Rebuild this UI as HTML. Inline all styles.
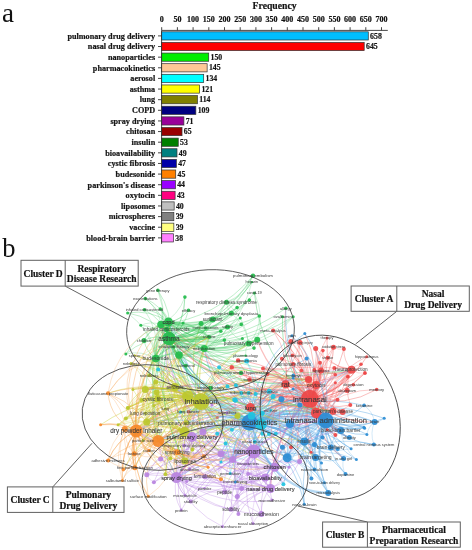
<!DOCTYPE html><html><head><meta charset="utf-8"><title>Figure</title><style>html,body{margin:0;padding:0;background:#fff;width:472px;height:550px;overflow:hidden}svg{display:block}.s{font-family:"Liberation Serif",serif;font-weight:bold;stroke:#151515;stroke-width:0.2px}.l{font-family:"Liberation Sans",sans-serif;fill:#3a3a3a}.k{stroke:#3a3a3a;stroke-width:0.1px}</style></head><body>
<svg width="472" height="550" viewBox="0 0 472 550">
<text x="2.1" y="21.8" font-family="Liberation Serif, serif" font-size="27" fill="#111">a</text>
<text x="2.2" y="256.5" font-family="Liberation Serif, serif" font-size="26.5" fill="#111">b</text>
<text class="s" x="274.6" y="9" font-size="9.7" text-anchor="middle" fill="#111">Frequency</text>
<text class="s" x="161.7" y="22.2" font-size="8" text-anchor="middle" fill="#111">0</text>
<text class="s" x="177.4" y="22.2" font-size="8" text-anchor="middle" fill="#111">50</text>
<text class="s" x="193.1" y="22.2" font-size="8" text-anchor="middle" fill="#111">100</text>
<text class="s" x="208.8" y="22.2" font-size="8" text-anchor="middle" fill="#111">150</text>
<text class="s" x="224.5" y="22.2" font-size="8" text-anchor="middle" fill="#111">200</text>
<text class="s" x="240.2" y="22.2" font-size="8" text-anchor="middle" fill="#111">250</text>
<text class="s" x="255.9" y="22.2" font-size="8" text-anchor="middle" fill="#111">300</text>
<text class="s" x="271.6" y="22.2" font-size="8" text-anchor="middle" fill="#111">350</text>
<text class="s" x="287.3" y="22.2" font-size="8" text-anchor="middle" fill="#111">400</text>
<text class="s" x="303.0" y="22.2" font-size="8" text-anchor="middle" fill="#111">450</text>
<text class="s" x="318.7" y="22.2" font-size="8" text-anchor="middle" fill="#111">500</text>
<text class="s" x="334.4" y="22.2" font-size="8" text-anchor="middle" fill="#111">550</text>
<text class="s" x="350.1" y="22.2" font-size="8" text-anchor="middle" fill="#111">600</text>
<text class="s" x="365.8" y="22.2" font-size="8" text-anchor="middle" fill="#111">650</text>
<text class="s" x="381.5" y="22.2" font-size="8" text-anchor="middle" fill="#111">700</text>
<rect x="161.6" y="31.80" width="206.68" height="8.2" fill="#00BEFF" stroke="#333" stroke-width="0.7"/>
<text class="s" x="155.2" y="38.70" font-size="8.2" text-anchor="end" fill="#151515">pulmonary drug delivery</text>
<text class="s" x="370.08" y="38.60" font-size="7.8" fill="#151515">658</text>
<rect x="161.6" y="42.43" width="202.59" height="8.2" fill="#FF0000" stroke="#333" stroke-width="0.7"/>
<text class="s" x="155.2" y="49.33" font-size="8.2" text-anchor="end" fill="#151515">nasal drug delivery</text>
<text class="s" x="365.99" y="49.23" font-size="7.8" fill="#151515">645</text>
<rect x="161.6" y="53.06" width="47.12" height="8.2" fill="#00EE00" stroke="#333" stroke-width="0.7"/>
<text class="s" x="155.2" y="59.96" font-size="8.2" text-anchor="end" fill="#151515">nanoparticles</text>
<text class="s" x="210.52" y="59.86" font-size="7.8" fill="#151515">150</text>
<rect x="161.6" y="63.69" width="45.54" height="8.2" fill="#FFC896" stroke="#333" stroke-width="0.7"/>
<text class="s" x="155.2" y="70.59" font-size="8.2" text-anchor="end" fill="#151515">pharmacokinetics</text>
<text class="s" x="208.94" y="70.49" font-size="7.8" fill="#151515">145</text>
<rect x="161.6" y="74.32" width="42.09" height="8.2" fill="#00FFFF" stroke="#333" stroke-width="0.7"/>
<text class="s" x="155.2" y="81.22" font-size="8.2" text-anchor="end" fill="#151515">aerosol</text>
<text class="s" x="205.49" y="81.12" font-size="7.8" fill="#151515">134</text>
<rect x="161.6" y="84.95" width="38.01" height="8.2" fill="#FFFF00" stroke="#333" stroke-width="0.7"/>
<text class="s" x="155.2" y="91.85" font-size="8.2" text-anchor="end" fill="#151515">asthma</text>
<text class="s" x="201.41" y="91.75" font-size="7.8" fill="#151515">121</text>
<rect x="161.6" y="95.58" width="35.81" height="8.2" fill="#808000" stroke="#333" stroke-width="0.7"/>
<text class="s" x="155.2" y="102.48" font-size="8.2" text-anchor="end" fill="#151515">lung</text>
<text class="s" x="199.21" y="102.38" font-size="7.8" fill="#151515">114</text>
<rect x="161.6" y="106.21" width="34.24" height="8.2" fill="#000080" stroke="#333" stroke-width="0.7"/>
<text class="s" x="155.2" y="113.11" font-size="8.2" text-anchor="end" fill="#151515">COPD</text>
<text class="s" x="197.64" y="113.01" font-size="7.8" fill="#151515">109</text>
<rect x="161.6" y="116.84" width="22.30" height="8.2" fill="#990099" stroke="#333" stroke-width="0.7"/>
<text class="s" x="155.2" y="123.74" font-size="8.2" text-anchor="end" fill="#151515">spray drying</text>
<text class="s" x="185.70" y="123.64" font-size="7.8" fill="#151515">71</text>
<rect x="161.6" y="127.47" width="20.42" height="8.2" fill="#990000" stroke="#333" stroke-width="0.7"/>
<text class="s" x="155.2" y="134.37" font-size="8.2" text-anchor="end" fill="#151515">chitosan</text>
<text class="s" x="183.82" y="134.27" font-size="7.8" fill="#151515">65</text>
<rect x="161.6" y="138.10" width="16.65" height="8.2" fill="#008000" stroke="#333" stroke-width="0.7"/>
<text class="s" x="155.2" y="145.00" font-size="8.2" text-anchor="end" fill="#151515">insulin</text>
<text class="s" x="180.05" y="144.90" font-size="7.8" fill="#151515">53</text>
<rect x="161.6" y="148.73" width="15.39" height="8.2" fill="#008080" stroke="#333" stroke-width="0.7"/>
<text class="s" x="155.2" y="155.63" font-size="8.2" text-anchor="end" fill="#151515">bioavailability</text>
<text class="s" x="178.79" y="155.53" font-size="7.8" fill="#151515">49</text>
<rect x="161.6" y="159.36" width="14.76" height="8.2" fill="#0000A8" stroke="#333" stroke-width="0.7"/>
<text class="s" x="155.2" y="166.26" font-size="8.2" text-anchor="end" fill="#151515">cystic fibrosis</text>
<text class="s" x="178.16" y="166.16" font-size="7.8" fill="#151515">47</text>
<rect x="161.6" y="169.99" width="14.13" height="8.2" fill="#FF8000" stroke="#333" stroke-width="0.7"/>
<text class="s" x="155.2" y="176.89" font-size="8.2" text-anchor="end" fill="#151515">budesonide</text>
<text class="s" x="177.53" y="176.79" font-size="7.8" fill="#151515">45</text>
<rect x="161.6" y="180.62" width="13.82" height="8.2" fill="#9900FF" stroke="#333" stroke-width="0.7"/>
<text class="s" x="155.2" y="187.52" font-size="8.2" text-anchor="end" fill="#151515">parkinson&#39;s disease</text>
<text class="s" x="177.22" y="187.42" font-size="7.8" fill="#151515">44</text>
<rect x="161.6" y="191.25" width="13.51" height="8.2" fill="#FF0080" stroke="#333" stroke-width="0.7"/>
<text class="s" x="155.2" y="198.15" font-size="8.2" text-anchor="end" fill="#151515">oxytocin</text>
<text class="s" x="176.91" y="198.05" font-size="7.8" fill="#151515">43</text>
<rect x="161.6" y="201.88" width="12.56" height="8.2" fill="#C0C0C0" stroke="#333" stroke-width="0.7"/>
<text class="s" x="155.2" y="208.78" font-size="8.2" text-anchor="end" fill="#151515">liposomes</text>
<text class="s" x="175.96" y="208.68" font-size="7.8" fill="#151515">40</text>
<rect x="161.6" y="212.51" width="12.25" height="8.2" fill="#808080" stroke="#333" stroke-width="0.7"/>
<text class="s" x="155.2" y="219.41" font-size="8.2" text-anchor="end" fill="#151515">microspheres</text>
<text class="s" x="175.65" y="219.31" font-size="7.8" fill="#151515">39</text>
<rect x="161.6" y="223.14" width="12.25" height="8.2" fill="#FFFF80" stroke="#333" stroke-width="0.7"/>
<text class="s" x="155.2" y="230.04" font-size="8.2" text-anchor="end" fill="#151515">vaccine</text>
<text class="s" x="175.65" y="229.94" font-size="7.8" fill="#151515">39</text>
<rect x="161.6" y="233.77" width="11.94" height="8.2" fill="#FF80FF" stroke="#333" stroke-width="0.7"/>
<text class="s" x="155.2" y="240.67" font-size="8.2" text-anchor="end" fill="#151515">blood-brain barrier</text>
<text class="s" x="175.34" y="240.57" font-size="7.8" fill="#151515">38</text>
<path d="M161.7 27.2V30.4M177.4 27.2V30.4M193.1 27.2V30.4M208.8 27.2V30.4M224.5 27.2V30.4M240.2 27.2V30.4M255.9 27.2V30.4M271.6 27.2V30.4M287.3 27.2V30.4M303.0 27.2V30.4M318.7 27.2V30.4M334.4 27.2V30.4M350.1 27.2V30.4M365.8 27.2V30.4M381.5 27.2V30.4M158 35.90H161.6M158 46.53H161.6M158 57.16H161.6M158 67.79H161.6M158 78.42H161.6M158 89.05H161.6M158 99.68H161.6M158 110.31H161.6M158 120.94H161.6M158 131.57H161.6M158 142.20H161.6M158 152.83H161.6M158 163.46H161.6M158 174.09H161.6M158 184.72H161.6M158 195.35H161.6M158 205.98H161.6M158 216.61H161.6M158 227.24H161.6M158 237.87H161.6M161.6 30.4H387.8M161.6 30.4V243.9" stroke="#333" stroke-width="0.9" fill="none"/>
<g fill="none" stroke-opacity="0.4">
<path stroke="#F26060" stroke-width="1.6" d="M309.8 398.8Q313.4 412.8 325.7 420.5M309.8 398.8Q254.9 378.5 201.1 401.6"/>
<path stroke="#4AA0E0" stroke-width="1.6" d="M309.8 398.8Q274.9 398.6 249.5 422.5"/>
<path stroke="#C4CA24" stroke-width="1.4" d="M169.0 338.5Q172.4 376.5 201.1 401.6M249.5 422.5Q229.5 402.4 201.1 401.6M201.1 401.6Q171.8 412.7 158.2 441.0M201.1 401.6Q217.5 437.1 253.8 451.5M325.7 420.5Q267.2 386.1 201.1 401.6M201.1 401.6Q162.8 403.3 136.3 430.9"/>
<path stroke="#F26060" stroke-width="1.4" d="M169.0 338.5Q227.3 396.8 309.8 398.8M309.8 398.8Q310.1 407.2 316.2 413.1M309.8 398.8Q280.3 401.8 261.0 424.4M309.8 398.8Q216.6 380.2 136.3 430.9M309.8 398.8Q227.4 411.5 176.5 477.5"/>
<path stroke="#4AA0E0" stroke-width="1.4" d="M325.7 420.5Q287.2 406.3 249.5 422.5M249.5 422.5Q245.8 437.9 253.8 451.5M249.5 422.5Q191.2 404.1 136.3 430.9M169.0 338.5Q192.4 396.6 249.5 422.5"/>
<path stroke="#B57CE0" stroke-width="1.4" d="M325.7 420.5Q283.6 421.6 253.8 451.5"/>
<path stroke="#3CC860" stroke-width="1.2" d="M168.5 322.0Q168.9 368.3 201.1 401.6M169.0 338.5Q166.8 371.3 187.8 396.5M169.0 338.5Q143.1 387.6 158.2 441.0"/>
<path stroke="#C4CA24" stroke-width="1.2" d="M179.0 355.0Q180.7 382.7 201.1 401.6M155.8 358.5Q169.8 389.1 201.1 401.6M204.2 348.6Q192.0 374.5 201.1 401.6M250.4 407.4Q226.9 394.6 201.1 401.6M201.1 401.6Q195.5 396.4 187.8 396.5M201.1 401.6Q186.7 413.5 184.5 432.0M201.1 401.6Q191.0 389.1 175.1 387.0M201.1 401.6Q175.6 384.4 145.3 389.6M201.1 401.6Q179.9 391.7 157.7 399.1M201.1 401.6Q169.8 400.9 146.7 421.9M201.1 401.6Q181.1 428.0 184.8 460.9M201.1 401.6Q173.6 434.6 176.5 477.5M249.5 422.5Q219.4 389.9 175.1 387.0M184.5 432.0Q215.2 455.6 253.8 451.5M201.1 401.6Q195.9 417.1 202.9 431.9M161.0 324.5Q165.6 371.1 201.1 401.6M308.5 379.5Q250.4 369.1 201.1 401.6M249.5 422.5Q215.1 414.2 184.5 432.0M201.1 401.6Q200.6 431.7 221.0 453.8M201.1 401.6Q224.8 449.1 274.8 467.2"/>
<path stroke="#F26060" stroke-width="1.2" d="M257.2 339.7Q271.7 379.8 309.8 398.8M309.8 398.8Q315.7 393.2 316.1 385.1M309.8 398.8Q313.0 388.9 308.5 379.5M309.8 398.8Q318.9 409.6 333.0 411.2M309.8 398.8Q321.0 386.9 321.0 370.6M309.8 398.8Q300.6 386.7 285.6 384.2M309.8 398.8Q336.5 392.6 351.5 369.7M285.6 384.2Q298.4 410.4 325.7 420.5M309.8 398.8Q278.4 391.2 250.4 407.4M309.8 398.8Q316.2 368.6 300.0 342.4M309.8 398.8Q311.8 366.3 290.9 341.4M309.8 398.8Q332.0 377.7 333.5 347.2M309.8 398.8Q322.8 374.8 315.7 348.5M309.8 398.8Q330.1 402.2 347.1 390.6M309.8 398.8Q323.6 412.0 342.7 412.0M309.8 398.8Q337.6 423.3 374.6 421.9M309.8 398.8Q319.0 420.8 340.8 430.5M309.8 398.8Q321.9 426.1 349.4 437.5M309.8 398.8Q303.0 422.6 314.5 444.5M309.8 398.8Q301.0 429.3 315.6 457.5M309.8 398.8Q314.8 435.4 343.6 458.5M309.8 398.8Q303.5 400.0 299.8 405.1M309.8 398.8Q294.8 407.4 289.9 424.0M309.8 398.8Q277.2 395.7 251.5 415.9M309.8 398.8Q283.1 396.5 262.1 413.2M309.8 398.8Q278.6 426.0 274.8 467.2M309.8 398.8Q292.2 428.1 299.6 461.5M309.8 398.8Q272.2 435.8 270.5 488.5M351.5 369.7Q328.4 389.9 325.7 420.5"/>
<path stroke="#4AA0E0" stroke-width="1.2" d="M250.4 407.4Q246.9 414.8 249.5 422.5M316.2 413.1Q319.5 418.7 325.7 420.5M316.2 413.1Q281.0 404.5 249.5 422.5M325.7 420.5Q307.1 415.1 289.9 424.0M325.7 420.5Q310.9 426.8 304.5 441.6M325.7 420.5Q313.2 437.0 315.6 457.5M325.7 420.5Q331.2 428.5 340.8 430.5M325.7 420.5Q299.0 431.4 287.2 457.7M340.8 430.5Q296.8 408.2 249.5 422.5M304.5 441.6Q280.8 421.1 249.5 422.5M315.6 457.5Q289.6 426.8 249.5 422.5M287.2 457.7Q275.4 432.6 249.5 422.5M287.2 457.7Q271.7 447.9 253.8 451.5M309.8 398.8Q286.7 423.7 287.2 457.7M289.9 424.0Q270.0 415.2 249.5 422.5M249.5 422.5Q254.9 425.8 261.0 424.4M249.5 422.5Q223.8 397.2 187.8 396.5M325.7 420.5Q292.6 409.5 261.0 424.4M249.5 422.5Q200.2 413.5 158.2 441.0M249.5 422.5Q202.0 435.4 176.5 477.5M249.5 422.5Q233.6 437.7 232.5 459.6M325.7 420.5Q284.1 436.9 265.3 477.5M168.5 322.0Q188.9 388.4 249.5 422.5M161.0 324.5Q185.7 391.2 249.5 422.5M179.0 355.0Q200.8 402.9 249.5 422.5M204.2 348.6Q212.1 394.6 249.5 422.5M325.7 420.5Q257.1 373.6 175.1 387.0M325.7 420.5Q237.8 397.2 158.2 441.0M325.7 420.5Q262.0 401.6 202.9 431.9M340.8 430.5Q276.7 388.1 201.1 401.6M249.5 422.5Q204.0 385.2 145.3 389.6M249.5 422.5Q198.2 401.6 146.7 421.9M249.5 422.5Q229.0 432.4 221.0 453.8M249.5 422.5Q253.2 449.9 274.8 467.2"/>
<path stroke="#40CCE6" stroke-width="1.2" d="M261.0 424.4Q235.6 401.0 201.1 401.6M309.8 398.8Q291.0 386.9 269.2 391.2M309.8 398.8Q291.9 390.3 273.0 396.5"/>
<path stroke="#F59638" stroke-width="1.2" d="M187.8 396.5Q155.2 403.4 136.3 430.9M184.5 432.0Q160.6 421.8 136.3 430.9M136.3 430.9Q145.2 440.3 158.2 441.0M136.3 430.9Q162.9 445.1 192.0 437.0M169.0 338.5Q134.2 378.2 136.3 430.9M136.3 430.9Q147.1 462.2 176.5 477.5M261.0 424.4Q206.3 412.1 158.2 441.0"/>
<path stroke="#B57CE0" stroke-width="1.2" d="M136.3 430.9Q190.9 464.7 253.8 451.5M158.2 441.0Q160.0 462.9 176.5 477.5M253.8 451.5Q254.7 473.3 270.5 488.5M253.8 451.5Q261.2 463.6 274.8 467.2M253.8 451.5Q225.8 431.9 192.0 437.0M261.0 424.4Q252.0 436.5 253.8 451.5M249.5 422.5Q217.8 418.2 192.0 437.0M201.1 401.6Q189.5 417.5 192.0 437.0M253.8 451.5Q210.0 449.0 176.5 477.5"/>
<path stroke="#3CC860" stroke-width="1.0" d="M169.0 338.5Q172.1 330.1 168.5 322.0M169.0 338.5Q167.8 329.9 161.0 324.5M169.0 338.5Q170.7 348.8 179.0 355.0M169.0 338.5Q169.5 333.5 166.4 329.5M169.0 338.5Q184.6 350.6 204.2 348.6M169.0 338.5Q158.4 345.9 155.8 358.5M169.0 338.5Q156.1 334.4 144.0 340.4M169.0 338.5Q171.9 355.5 185.8 365.8M185.8 365.8Q186.3 386.8 201.1 401.6M169.0 338.5Q194.7 337.7 212.7 319.5M169.0 338.5Q200.6 344.4 227.5 327.0M169.0 338.5Q188.1 337.4 201.1 323.5M169.0 338.5Q189.4 345.8 209.2 337.0M169.0 338.5Q212.9 356.7 257.2 339.7M169.0 338.5Q207.8 356.9 248.7 343.5M169.0 338.5Q205.0 331.9 226.5 302.3M169.0 338.5Q205.2 338.4 231.4 313.3M169.0 338.5Q223.5 323.9 253.0 275.8M254.4 293.1Q261.0 357.0 309.8 398.8M282.6 316.7Q279.8 363.2 309.8 398.8M169.0 338.5Q179.9 371.6 210.7 388.0M169.0 338.5Q198.1 370.1 241.0 373.0M169.0 338.5Q203.3 365.3 246.6 361.0M169.0 338.5Q157.4 351.9 158.2 369.6M169.0 338.5Q146.9 359.3 145.3 389.6M169.0 338.5Q151.7 352.9 149.1 375.3M169.0 338.5Q218.2 384.7 285.6 384.2M169.0 338.5Q254.0 390.6 351.5 369.7M169.0 338.5Q194.8 393.7 251.5 415.9M169.0 338.5Q152.4 402.9 184.8 460.9M168.5 322.0Q192.6 415.9 274.8 467.2M161.0 324.5Q138.2 404.1 176.5 477.5M155.8 358.5Q158.2 405.0 192.0 437.0"/>
<path stroke="#C4CA24" stroke-width="1.0" d="M201.1 323.5Q185.5 362.6 201.1 401.6M257.2 339.7Q216.8 359.4 201.1 401.6M248.7 343.5Q213.3 363.0 201.1 401.6M210.7 388.0Q203.2 392.9 201.1 401.6M241.0 373.0Q215.3 379.3 201.1 401.6M249.7 379.5Q221.0 380.8 201.1 401.6M238.1 360.4Q211.4 373.6 201.1 401.6M231.8 367.2Q209.6 378.3 201.1 401.6M235.3 481.9Q234.3 434.9 201.1 401.6M241.2 392.9Q219.4 389.2 201.1 401.6M248.6 392.9Q223.1 387.8 201.1 401.6M255.6 394.0Q226.8 386.9 201.1 401.6M227.4 386.5Q211.2 388.8 201.1 401.6M235.9 385.3Q215.2 386.5 201.1 401.6M234.8 399.7Q217.6 393.9 201.1 401.6M246.6 361.0Q215.7 372.2 201.1 401.6M219.1 367.2Q203.2 380.8 201.1 401.6M225.6 443.6Q221.8 417.7 201.1 401.6M217.2 433.8Q215.6 414.5 201.1 401.6M262.1 413.2Q233.9 395.2 201.1 401.6M235.6 400.5Q218.1 394.2 201.1 401.6M158.2 369.6Q173.2 394.2 201.1 401.6M201.1 401.6Q180.7 388.1 156.7 392.4M201.1 401.6Q216.4 416.0 237.5 415.9M201.1 401.6Q189.5 409.2 186.4 422.7M187.8 396.5Q179.1 413.6 184.5 432.0M187.8 396.5Q183.3 389.2 175.1 387.0M187.8 396.5Q167.9 384.6 145.3 389.6M187.8 396.5Q173.4 428.1 184.8 460.9M187.8 396.5Q162.2 401.0 146.7 421.9M187.8 396.5Q208.8 416.1 237.5 415.9M187.8 396.5Q173.1 388.2 156.7 392.4M169.0 338.5Q162.4 364.0 175.1 387.0M175.1 387.0Q170.8 411.4 184.5 432.0M187.8 396.5Q172.2 391.8 157.7 399.1M201.1 401.6Q182.4 382.7 155.8 381.9M201.1 401.6Q180.4 378.1 149.1 375.3M201.1 401.6Q173.7 368.5 131.0 363.4M201.1 401.6Q170.9 396.1 145.3 413.0M201.1 401.6Q176.7 394.3 153.9 405.8M201.1 401.6Q163.4 390.0 128.1 407.7M201.1 401.6Q171.6 388.9 141.5 400.0M201.1 401.6Q169.4 382.0 132.9 389.6M184.5 432.0Q187.2 436.0 192.0 437.0M237.5 415.9Q238.5 437.0 253.8 451.5M146.7 421.9Q139.7 424.3 136.3 430.9M201.1 401.6Q160.1 395.0 125.8 418.5M201.1 401.6Q163.1 390.1 127.7 408.0M201.1 401.6Q155.0 396.6 118.1 424.8M201.1 401.6Q164.2 409.4 142.9 440.4M184.8 460.9Q175.5 445.6 158.2 441.0M201.1 401.6Q174.4 424.0 170.5 458.6M201.1 401.6Q187.2 423.9 192.4 449.6M201.1 401.6Q168.8 430.8 165.5 474.2M201.1 401.6Q177.1 365.2 134.6 355.3M201.1 401.6Q181.8 397.9 165.3 408.6M201.1 401.6Q192.8 404.2 188.5 411.8M201.1 401.6Q188.7 402.7 180.5 412.0M201.1 401.6Q157.5 400.0 124.8 429.0M201.1 401.6Q146.2 393.1 100.6 424.8M201.1 401.6Q157.3 414.3 134.3 453.8M201.1 401.6Q154.7 421.4 134.8 467.7M201.1 401.6Q148.7 420.1 123.4 469.6M201.1 401.6Q179.0 422.2 177.2 452.3M201.1 401.6Q195.5 444.4 221.0 479.2M201.1 401.6Q183.8 420.2 184.0 445.6M201.1 401.6Q169.3 422.2 160.6 459.1M201.1 401.6Q211.8 412.5 227.0 413.1M201.1 401.6Q206.0 412.7 217.3 417.4M179.0 355.0Q175.1 377.5 187.8 396.5M285.6 384.2Q225.5 387.9 184.5 432.0M316.1 385.1Q240.9 382.2 184.5 432.0"/>
<path stroke="#F26060" stroke-width="1.0" d="M285.8 308.2Q279.7 358.3 309.8 398.8M241.0 373.0Q270.2 399.7 309.8 398.8M285.6 384.2Q295.1 404.8 316.2 413.1M308.5 379.5Q305.6 397.8 316.2 413.1M316.1 385.1Q310.5 399.1 316.2 413.1M250.4 407.4Q282.2 423.4 316.2 413.1M309.8 398.8Q283.6 377.1 249.7 379.5M309.8 398.8Q330.6 371.8 327.0 338.0M309.8 398.8Q336.8 380.7 343.9 349.0M309.8 398.8Q326.0 377.3 322.9 350.6M309.8 398.8Q309.8 373.6 292.4 355.4M309.8 398.8Q327.0 381.8 327.7 357.7M309.8 398.8Q346.7 389.1 366.7 356.7M309.8 398.8Q308.5 378.1 293.3 364.0M309.8 398.8Q303.9 373.2 281.9 358.8M309.8 398.8Q322.1 382.8 320.0 362.8M309.8 398.8Q342.3 391.8 361.0 364.3M309.8 398.8Q317.8 385.3 314.3 370.0M351.5 369.7Q325.2 384.3 316.2 413.1M309.8 398.8Q328.2 388.4 334.3 368.1M309.8 398.8Q342.5 396.9 364.9 372.9M309.8 398.8Q311.2 383.0 301.4 370.6M309.8 398.8Q327.4 391.9 335.3 374.8M309.8 398.8Q333.2 395.3 347.7 376.7M309.8 398.8Q334.4 400.5 353.4 384.8M309.8 398.8Q345.1 407.5 376.7 389.5M316.2 413.1Q325.0 415.5 333.0 411.2M309.8 398.8Q323.5 404.8 337.5 399.7M309.8 398.8Q328.8 410.0 350.3 405.0M309.8 398.8Q325.8 395.9 335.4 382.7M309.8 398.8Q320.8 387.1 320.6 371.0M309.8 398.8Q333.4 395.3 348.1 376.4M309.8 398.8Q342.6 397.1 365.1 373.2M309.8 398.8Q305.1 357.4 273.1 330.6M309.8 398.8Q281.6 365.3 238.1 360.4M309.8 398.8Q292.5 374.3 263.0 368.5M309.8 398.8Q293.6 377.9 267.5 374.0M309.8 398.8Q277.1 367.4 231.8 367.2M309.8 398.8Q312.4 417.8 327.3 429.8M309.8 398.8Q315.3 422.1 335.4 435.1M309.8 398.8Q290.7 419.2 291.0 447.2M309.8 398.8Q299.7 425.7 311.0 452.2M309.8 398.8Q313.5 363.7 291.9 335.7M309.8 398.8Q320.4 365.1 304.8 333.4M309.8 398.8Q280.4 383.6 248.6 392.9M309.8 398.8Q283.2 396.6 262.4 413.4M309.8 398.8Q273.7 409.3 254.8 441.8M309.8 398.8Q285.8 409.5 275.8 433.8M309.8 398.8Q245.4 406.4 203.9 456.3M309.8 398.8Q259.8 389.6 217.3 417.4M169.0 338.5Q230.6 386.9 308.5 379.5M169.0 338.5Q236.5 407.7 333.0 411.2M308.5 379.5Q266.8 404.6 253.8 451.5M316.1 385.1Q227.8 403.4 176.5 477.5M250.4 407.4Q197.6 405.8 158.2 441.0M316.2 413.1Q325.0 426.7 340.8 430.5M316.2 413.1Q250.9 371.8 175.1 387.0M316.2 413.1Q284.7 431.9 274.8 467.2M333.0 411.2Q239.6 391.1 158.2 441.0"/>
<path stroke="#4AA0E0" stroke-width="1.0" d="M285.8 308.2Q283.3 372.3 325.7 420.5M353.4 384.8Q332.4 397.1 325.7 420.5M291.0 447.2Q313.7 440.8 325.7 420.5M311.0 452.2Q324.7 439.3 325.7 420.5M325.7 420.5Q322.9 435.0 330.8 447.5M325.7 420.5Q349.9 431.0 374.6 421.9M374.6 421.9Q311.9 397.2 249.5 422.5M325.7 420.5Q355.4 431.1 384.2 418.3M384.2 418.3Q316.0 393.5 249.5 422.5M325.7 420.5Q343.5 431.5 364.0 427.2M364.0 427.2Q307.7 402.0 249.5 422.5M325.7 420.5Q347.9 420.6 364.1 405.4M364.1 405.4Q303.4 391.0 249.5 422.5M325.7 420.5Q334.1 433.7 349.4 437.5M349.4 437.5Q302.4 410.0 249.5 422.5M325.7 420.5Q343.6 432.1 364.6 428.2M364.6 428.2Q308.2 402.3 249.5 422.5M325.7 420.5Q343.5 435.7 366.9 434.4M366.9 434.4Q310.6 405.0 249.5 422.5M325.7 420.5Q345.0 442.1 373.9 444.5M325.7 420.5Q320.8 428.4 322.6 437.5M322.6 437.5Q289.1 415.4 249.5 422.5M330.8 447.5Q295.1 418.7 249.5 422.5M325.7 420.5Q315.3 430.3 314.5 444.5M325.7 420.5Q326.0 437.2 337.8 449.1M337.8 449.1Q299.0 418.1 249.5 422.5M325.7 420.5Q332.8 439.7 351.1 448.7M351.1 448.7Q305.5 415.3 249.5 422.5M325.7 420.5Q327.0 443.1 343.6 458.5M343.6 458.5Q303.8 421.7 249.5 422.5M325.7 420.5Q333.2 446.2 356.4 459.6M321.5 463.1Q293.6 428.4 249.5 422.5M325.7 420.5Q315.1 441.0 321.5 463.1M325.7 420.5Q310.3 442.8 314.5 469.6M314.5 469.6Q291.4 433.1 249.5 422.5M345.5 474.1Q307.8 429.1 249.5 422.5M325.7 420.5Q324.9 451.3 345.5 474.1M325.7 420.5Q312.6 451.4 324.4 482.8M325.7 420.5Q312.5 457.2 328.2 492.9M328.2 492.9Q302.9 442.0 249.5 422.5M325.7 420.5Q298.2 458.1 304.3 504.3M304.3 504.3Q293.3 452.4 249.5 422.5M325.7 420.5Q306.9 446.7 311.4 478.6M282.4 447.2Q270.9 428.3 249.5 422.5M325.7 420.5Q298.7 425.2 282.4 447.2M299.8 405.1Q271.2 403.7 249.5 422.5M325.7 420.5Q315.8 407.6 299.8 405.1M281.4 399.2Q260.8 404.5 249.5 422.5M325.7 420.5Q307.8 401.0 281.4 399.2M325.7 420.5Q318.5 391.5 293.3 375.4M293.3 375.4Q262.0 390.2 249.5 422.5M291.9 335.7Q253.3 370.6 249.5 422.5M325.7 420.5Q325.8 371.3 291.9 335.7M325.7 420.5Q332.7 372.8 304.8 333.4M304.8 333.4Q259.3 366.9 249.5 422.5M306.7 358.6Q265.3 379.1 249.5 422.5M325.7 420.5Q328.6 385.8 306.7 358.6M293.1 378.0Q262.4 391.5 249.5 422.5M325.7 420.5Q317.9 392.7 293.1 378.0M293.1 389.1Q264.6 397.1 249.5 422.5M325.7 420.5Q315.7 398.3 293.1 389.1M309.8 398.8Q303.4 390.6 293.1 389.1M325.7 420.5Q268.2 433.1 235.3 481.9M249.5 422.5Q230.5 449.4 235.3 481.9M249.5 422.5Q245.4 388.8 219.1 367.2M249.5 422.5Q239.2 422.6 231.9 429.8M249.5 422.5Q248.3 433.2 254.8 441.8M249.5 422.5Q260.4 433.4 275.8 433.8M249.5 422.5Q253.7 430.7 262.4 433.8M325.7 420.5Q291.8 443.9 283.4 484.3M249.5 422.5Q227.3 436.6 221.0 462.0M249.5 422.5Q217.9 410.0 186.4 422.7M249.5 422.5Q244.8 416.8 237.5 415.9M249.5 422.5Q221.1 404.9 188.5 411.8M249.5 422.5Q260.4 452.8 289.1 467.2M325.7 420.5Q304.4 435.8 299.6 461.5M304.5 441.6Q231.5 412.0 158.2 441.0M315.6 457.5Q294.9 430.0 261.0 424.4M315.6 457.5Q242.1 439.7 176.5 477.5M289.9 424.0Q266.4 430.5 253.8 451.5"/>
<path stroke="#40CCE6" stroke-width="1.0" d="M251.5 415.9Q254.6 422.0 261.0 424.4M273.0 396.5Q252.4 420.2 253.8 451.5M249.5 422.5Q250.1 401.2 235.9 385.3M249.5 422.5Q246.7 408.2 234.8 399.7M249.5 422.5Q262.6 420.7 270.8 410.3M225.6 443.6Q238.1 453.2 253.8 451.5M269.0 434.0Q257.9 439.7 253.8 451.5M249.5 422.5Q231.1 421.7 217.2 433.8M309.8 398.8Q272.4 384.8 235.6 400.5M230.2 473.5Q230.0 431.7 201.1 401.6M179.0 355.0Q206.1 406.1 261.0 424.4M155.8 358.5Q195.2 412.5 261.0 424.4M285.6 384.2Q265.3 399.4 261.0 424.4M316.2 413.1Q286.3 407.7 261.0 424.4M251.5 415.9Q217.5 414.6 192.0 437.0M261.0 424.4Q230.0 395.8 187.8 396.5"/>
<path stroke="#B57CE0" stroke-width="1.0" d="M251.5 415.9Q245.5 434.2 253.8 451.5M269.2 391.2Q249.4 418.3 253.8 451.5M234.8 399.7Q233.9 429.4 253.8 451.5M231.9 429.8Q238.5 445.0 253.8 451.5M283.4 484.3Q275.2 462.0 253.8 451.5M158.2 441.0Q175.9 445.8 192.0 437.0M253.8 451.5Q254.4 466.8 265.3 477.5M253.8 451.5Q236.9 446.1 221.0 453.8M253.8 451.5Q241.5 451.3 232.5 459.6M253.8 451.5Q245.1 484.2 261.4 513.9M253.8 451.5Q232.3 431.5 202.9 431.9M192.0 437.0Q176.2 454.1 176.5 477.5M192.0 437.0Q220.9 478.4 270.5 488.5M192.0 437.0Q227.4 468.7 274.8 467.2M202.9 431.9Q180.6 449.4 176.5 477.5M253.8 451.5Q220.1 434.6 184.0 445.6M176.5 477.5Q203.5 474.5 221.0 453.8M176.5 477.5Q220.9 495.3 265.3 477.5M253.8 451.5Q205.7 436.7 160.6 459.1M253.8 451.5Q195.7 441.7 146.8 474.7M253.8 451.5Q197.7 446.9 153.9 482.3M253.8 451.5Q218.2 447.5 189.6 469.1M253.8 451.5Q224.3 454.3 204.8 476.7M176.5 477.5Q208.1 479.8 232.5 459.6M274.8 467.2Q268.4 477.0 270.5 488.5M176.5 477.5Q227.7 492.0 274.8 467.2M192.0 437.0Q220.6 471.9 265.3 477.5M253.8 451.5Q246.5 461.6 248.1 473.9M253.8 451.5Q274.7 465.7 299.6 461.5M253.8 451.5Q231.1 466.0 224.6 492.1M253.8 451.5Q212.2 463.9 190.7 501.6M253.8 451.5Q230.9 475.8 231.0 509.2M253.8 451.5Q240.3 467.6 241.6 488.5M253.8 451.5Q236.6 470.7 237.3 496.5M249.5 422.5Q228.6 457.1 237.3 496.5M253.8 451.5Q233.6 479.6 238.4 513.9M201.1 401.6Q205.9 405.5 212.0 405.0M168.5 322.0Q157.2 384.2 192.0 437.0M155.8 358.5Q186.2 424.6 253.8 451.5M351.5 369.7Q286.3 391.1 253.8 451.5M333.0 411.2Q285.3 415.5 253.8 451.5"/>
<path stroke="#F59638" stroke-width="1.0" d="M145.3 389.6Q132.5 408.4 136.3 430.9M156.7 392.4Q147.7 417.0 158.2 441.0M136.3 430.9Q130.9 427.6 124.8 429.0M136.3 430.9Q152.5 449.8 177.2 452.3M136.3 430.9Q128.2 449.0 134.8 467.7M136.3 430.9Q130.7 442.0 134.3 453.8M124.8 429.0Q139.1 441.7 158.2 441.0M184.5 432.0Q169.5 431.2 158.2 441.0M158.2 441.0Q165.4 450.4 177.2 452.3M201.1 401.6Q156.2 378.8 108.0 393.2M177.2 452.3Q215.7 467.2 253.8 451.5M201.1 401.6Q191.5 435.8 208.1 467.2M136.3 430.9Q142.8 449.9 160.6 459.1M136.3 430.9Q132.8 454.9 146.8 474.7M179.0 355.0Q142.5 384.4 136.3 430.9M179.0 355.0Q151.4 393.8 158.2 441.0M308.5 379.5Q212.1 370.8 136.3 430.9M316.1 385.1Q226.0 381.5 158.2 441.0M287.2 457.7Q226.0 423.6 158.2 441.0M289.9 424.0Q211.7 396.7 136.3 430.9M184.8 460.9Q166.6 436.2 136.3 430.9M158.2 441.0Q187.0 460.0 221.0 453.8M158.2 441.0Q191.6 465.2 232.5 459.6M158.2 441.0Q211.3 477.4 274.8 467.2"/>
<path stroke="#3CC860" stroke-width="0.8" d="M169.0 338.5Q170.6 322.0 160.3 309.0M168.5 322.0Q164.2 321.8 161.0 324.5M168.5 322.0Q154.8 337.7 155.8 358.5M168.5 322.0Q167.2 340.6 179.0 355.0M168.5 322.0Q152.6 326.3 144.0 340.4M168.5 322.0Q204.3 348.8 248.7 343.5M161.0 324.5Q151.6 340.5 155.8 358.5M161.0 324.5Q162.7 328.1 166.4 329.5M161.0 324.5Q163.9 343.4 179.0 355.0M161.0 324.5Q149.3 329.1 144.0 340.4M168.5 322.0Q165.9 325.3 166.4 329.5M166.4 329.5Q167.6 344.8 179.0 355.0M166.4 329.5Q155.3 341.9 155.8 358.5M144.0 340.4Q146.3 351.8 155.8 358.5M169.0 338.5Q169.8 343.8 174.0 347.0M168.5 322.0Q166.2 335.6 174.0 347.0M179.0 355.0Q166.7 352.1 155.8 358.5M155.8 358.5Q182.0 363.2 204.2 348.6M168.5 322.0Q168.4 347.4 185.8 365.8M179.0 355.0Q192.9 356.8 204.2 348.6M161.0 324.5Q177.8 345.2 204.2 348.6M168.5 322.0Q181.0 342.4 204.2 348.6M204.2 348.6Q227.5 354.9 248.7 343.5M169.0 338.5Q189.4 340.6 205.6 328.0M161.0 324.5Q187.8 332.3 212.7 319.5M179.0 355.0Q202.9 344.0 212.7 319.5M155.8 358.5Q192.1 350.4 212.7 319.5M168.5 322.0Q191.1 329.6 212.7 319.5M168.5 322.0Q197.0 336.3 227.5 327.0M204.2 348.6Q220.2 342.5 227.5 327.0M179.0 355.0Q196.4 343.7 201.1 323.5M168.5 322.0Q184.5 329.3 201.1 323.5M168.5 322.0Q185.8 337.6 209.2 337.0M168.5 322.0Q192.8 337.1 220.8 331.2M169.0 338.5Q196.4 345.2 220.8 331.2M168.5 322.0Q205.2 334.4 240.3 318.0M169.0 338.5Q208.8 342.5 240.3 318.0M169.0 338.5Q208.0 345.9 241.3 324.4M168.5 322.0Q204.4 337.8 241.3 324.4M168.5 322.0Q192.8 342.2 224.4 340.1M169.0 338.5Q196.4 350.4 224.4 340.1M169.0 338.5Q205.7 353.2 242.4 338.6M204.2 348.6Q232.5 354.8 257.2 339.7M179.0 355.0Q221.2 363.0 257.2 339.7M257.2 339.7Q252.2 339.9 248.7 343.5M169.0 338.5Q209.6 360.3 254.0 348.1M169.0 338.5Q203.9 362.4 245.6 355.6M155.8 358.5Q202.4 344.5 226.5 302.3M169.0 338.5Q216.9 335.4 249.4 300.1M168.5 322.0Q213.3 327.2 249.4 300.1M168.5 322.0Q205.7 328.5 237.1 307.6M169.0 338.5Q209.2 336.7 237.1 307.6M168.5 322.0Q201.7 330.2 231.4 313.3M169.0 338.5Q218.7 345.3 259.3 316.0M168.5 322.0Q215.1 337.2 259.3 316.0M161.0 324.5Q216.7 318.5 253.0 275.8M169.0 338.5Q221.7 326.9 251.9 282.1M169.0 338.5Q220.8 332.9 254.4 293.1M169.0 338.5Q233.5 346.7 285.8 308.2M169.0 338.5Q230.2 350.3 282.6 316.7M169.0 338.5Q235.5 352.4 293.2 316.7M169.0 338.5Q173.1 312.2 157.9 290.3M169.0 338.5Q165.1 313.8 145.3 298.6M168.5 322.0Q161.6 305.7 145.3 298.6M169.0 338.5Q162.5 319.2 144.4 309.7M168.5 322.0Q158.9 311.0 144.4 309.7M168.5 322.0Q167.0 313.9 160.3 309.0M169.0 338.5Q185.2 321.0 184.9 297.1M169.0 338.5Q184.4 328.3 188.5 310.3M168.5 322.0Q180.8 320.1 188.5 310.3M169.0 338.5Q157.5 326.3 140.8 325.3M169.0 338.5Q179.2 333.6 183.1 323.0M168.5 322.0Q175.6 325.4 183.1 323.0M169.0 338.5Q153.4 317.4 127.6 312.9M168.5 322.0Q149.9 309.3 127.6 312.9M169.0 338.5Q144.3 337.6 125.8 354.0M168.5 322.0Q140.8 329.5 125.8 354.0M179.0 355.0Q188.2 377.8 210.7 388.0M168.5 322.0Q176.4 363.4 210.7 388.0M179.0 355.0Q206.4 376.4 241.0 373.0M168.5 322.0Q227.0 378.8 308.5 379.5M168.5 322.0Q148.9 394.7 184.8 460.9M161.0 324.5Q247.2 385.2 351.5 369.7M161.0 324.5Q229.7 402.2 333.0 411.2M161.0 324.5Q144.4 361.1 157.7 399.1M179.0 355.0Q238.8 393.1 308.5 379.5M155.8 358.5Q233.9 420.3 333.0 411.2M155.8 358.5Q173.9 424.4 232.5 459.6M204.2 348.6Q256.1 405.7 333.0 411.2M204.2 348.6Q186.9 390.0 202.9 431.9"/>
<path stroke="#F26060" stroke-width="0.8" d="M285.6 384.2Q263.4 388.8 250.4 407.4M285.6 384.2Q298.0 386.4 308.5 379.5M308.5 379.5Q319.1 402.6 342.7 412.0M308.5 379.5Q311.2 383.8 316.1 385.1M316.1 385.1Q278.8 383.1 250.4 407.4M249.7 379.5Q276.2 409.6 316.2 413.1M300.0 342.4Q294.0 381.0 316.2 413.1M250.4 407.4Q288.2 384.8 300.0 342.4M290.9 341.4Q289.2 382.3 316.2 413.1M327.0 338.0Q306.6 373.4 316.2 413.1M333.5 347.2Q311.7 376.7 316.2 413.1M308.5 379.5Q327.5 368.4 333.5 347.2M308.5 379.5Q318.3 365.4 315.7 348.5M315.7 348.5Q329.4 366.3 351.5 369.7M343.9 349.0Q343.6 360.9 351.5 369.7M322.9 350.6Q307.0 380.5 316.2 413.1M327.7 357.7Q337.2 368.5 351.5 369.7M366.7 356.7Q330.2 374.8 316.2 413.1M293.3 364.0Q294.9 393.1 316.2 413.1M316.1 385.1Q304.3 365.1 281.9 358.8M285.6 384.2Q288.8 370.8 281.9 358.8M320.0 362.8Q308.0 387.2 316.2 413.1M316.1 385.1Q322.5 374.7 320.0 362.8M321.0 370.6Q336.4 376.2 351.5 369.7M308.5 379.5Q316.5 377.6 321.0 370.6M321.0 370.6Q310.1 390.9 316.2 413.1M316.1 385.1Q318.2 377.2 314.3 370.0M314.3 370.0Q333.0 377.3 351.5 369.7M285.6 384.2Q321.4 390.1 351.5 369.7M351.5 369.7Q343.2 365.5 334.3 368.1M335.3 374.8Q318.1 390.1 316.2 413.1M347.7 376.7Q324.7 388.6 316.2 413.1M351.5 369.7Q345.1 379.3 347.1 390.6M316.1 385.1Q330.5 394.1 347.1 390.6M376.7 389.5Q341.7 389.2 316.2 413.1M351.5 369.7Q333.9 386.8 333.0 411.2M316.1 385.1Q319.3 401.5 333.0 411.2M316.2 413.1Q329.7 417.9 342.7 412.0M333.0 411.2Q337.7 413.5 342.7 412.0M316.1 385.1Q324.0 403.9 342.7 412.0M316.2 413.1Q329.5 410.7 337.5 399.7M285.6 384.2Q308.4 402.3 337.5 399.7M316.2 413.1Q334.9 415.9 350.3 405.0M351.5 369.7Q343.8 387.1 350.3 405.0M316.2 413.1Q331.9 401.7 335.4 382.7M316.2 413.1Q339.5 401.1 348.1 376.4M316.2 413.1Q311.1 363.2 273.1 330.6M285.6 384.2Q290.1 354.9 273.1 330.6M250.4 407.4Q253.7 381.4 238.1 360.4M316.1 385.1Q292.9 366.2 263.0 368.5M285.6 384.2Q277.4 371.8 263.0 368.5M285.6 384.2Q278.6 375.5 267.5 374.0M250.4 407.4Q265.6 394.1 267.5 374.0M250.4 407.4Q249.1 383.6 231.8 367.2M316.2 413.1Q318.4 423.7 327.3 429.8M316.2 413.1Q321.4 427.9 335.4 435.1M250.4 407.4Q262.7 435.4 291.0 447.2M168.5 322.0Q214.6 376.5 285.6 384.2M161.0 324.5Q223.8 381.5 308.5 379.5M155.8 358.5Q193.3 401.9 250.4 407.4M204.2 348.6Q215.5 387.2 250.4 407.4M285.6 384.2Q300.7 390.8 316.1 385.1M285.6 384.2Q285.9 426.9 315.6 457.5M285.6 384.2Q271.7 421.3 287.2 457.7M285.6 384.2Q262.2 393.2 251.5 415.9M285.6 384.2Q234.7 391.5 202.9 431.9M285.6 384.2Q244.0 411.3 232.5 459.6M285.6 384.2Q263.6 423.5 274.8 467.2M308.5 379.5Q332.0 383.2 351.5 369.7M316.1 385.1Q319.4 412.7 340.8 430.5M316.1 385.1Q295.2 399.3 289.9 424.0M316.1 385.1Q277.6 387.6 251.5 415.9M250.4 407.4Q201.4 377.5 145.3 389.6M250.4 407.4Q195.7 393.9 146.7 421.9M351.5 369.7Q238.7 354.8 146.7 421.9M351.5 369.7Q274.0 390.8 232.5 459.6"/>
<path stroke="#4AA0E0" stroke-width="0.8" d="M374.6 421.9Q331.8 406.0 289.9 424.0M340.8 430.5Q320.4 428.8 304.5 441.6M340.8 430.5Q316.7 417.1 289.9 424.0M340.8 430.5Q343.7 435.7 349.4 437.5M364.6 428.2Q320.0 427.5 287.2 457.7M373.9 444.5Q327.9 433.8 287.2 457.7M304.5 441.6Q292.6 446.2 287.2 457.7M304.5 441.6Q300.7 429.9 289.9 424.0M304.5 441.6Q306.9 451.8 315.6 457.5M322.6 437.5Q300.9 440.5 287.2 457.7M304.5 441.6Q316.5 449.8 330.8 447.5M340.8 430.5Q332.4 437.0 330.8 447.5M314.5 444.5Q306.3 429.3 289.9 424.0M304.5 441.6Q308.9 445.1 314.5 444.5M304.5 441.6Q319.6 452.0 337.8 449.1M315.6 457.5Q309.4 435.6 289.9 424.0M315.6 457.5Q329.4 463.6 343.6 458.5M356.4 459.6Q322.2 444.8 287.2 457.7M304.5 441.6Q303.9 457.6 314.5 469.6M324.4 482.8Q310.8 462.8 287.2 457.7M328.2 492.9Q314.7 467.1 287.2 457.7M315.6 457.5Q314.8 477.7 328.2 492.9M304.3 504.3Q305.1 477.6 287.2 457.7M304.5 441.6Q300.6 461.5 311.4 478.6M311.4 478.6Q303.5 463.3 287.2 457.7M287.2 457.7Q295.3 441.4 289.9 424.0M287.2 457.7Q286.9 451.5 282.4 447.2M304.5 441.6Q292.3 440.0 282.4 447.2M304.5 441.6Q309.4 422.4 299.8 405.1M281.4 399.2Q280.7 413.3 289.9 424.0M287.2 457.7Q296.0 427.3 281.4 399.2M287.2 457.7Q306.7 417.8 293.3 375.4M168.5 322.0Q208.8 397.3 289.9 424.0M179.0 355.0Q220.6 411.7 289.9 424.0M204.2 348.6Q235.8 415.2 304.5 441.6M351.5 369.7Q313.6 396.2 304.5 441.6M351.5 369.7Q309.8 384.5 289.9 424.0M340.8 430.5Q265.1 404.0 192.0 437.0M304.5 441.6Q283.1 418.1 251.5 415.9M315.6 457.5Q291.9 423.9 251.5 415.9M287.2 457.7Q224.1 411.7 146.7 421.9M287.2 457.7Q272.3 463.2 265.3 477.5M289.9 424.0Q239.9 382.5 175.1 387.0M289.9 424.0Q244.8 410.6 202.9 431.9M289.9 424.0Q254.1 430.3 232.5 459.6"/>
<path stroke="#40CCE6" stroke-width="0.8" d="M251.5 415.9Q266.1 410.5 273.0 396.5M251.5 415.9Q257.3 416.7 262.1 413.2M261.0 424.4Q263.8 419.0 262.1 413.2M261.0 424.4Q271.7 409.4 269.2 391.2M261.0 424.4Q252.8 406.8 234.8 399.7M261.0 424.4Q272.6 412.8 273.0 396.5M261.0 424.4Q257.4 404.7 241.2 392.9M261.0 424.4Q261.1 406.2 248.6 392.9M261.0 424.4Q264.4 408.1 255.6 394.0M261.0 424.4Q251.8 398.7 227.4 386.5M261.0 424.4Q256.3 399.8 235.9 385.3M261.0 424.4Q268.7 419.3 270.8 410.3M261.0 424.4Q263.9 419.2 262.4 413.4M261.0 424.4Q266.5 389.8 246.6 361.0M251.5 415.9Q260.0 387.5 246.6 361.0M261.0 424.4Q251.5 387.4 219.1 367.2M261.0 424.4Q245.4 421.3 231.9 429.8M261.0 424.4Q263.1 430.8 269.0 434.0M261.0 424.4Q254.4 431.9 254.8 441.8M261.0 424.4Q237.2 420.3 217.2 433.8M261.0 424.4Q253.1 407.4 235.6 400.5M251.5 415.9Q246.6 405.0 235.6 400.5M261.0 424.4Q220.6 376.4 158.2 369.6M261.0 424.4Q266.5 432.1 275.8 433.8M261.0 424.4Q259.8 429.4 262.4 433.8M261.0 424.4Q260.2 458.8 283.4 484.3M221.0 462.0Q239.5 463.3 253.8 451.5M261.0 424.4Q233.5 435.2 221.0 462.0M261.0 424.4Q235.8 442.8 230.2 473.5M261.0 424.4Q250.9 415.4 237.5 415.9M261.0 424.4Q223.2 402.1 180.5 412.0M251.5 415.9Q233.3 433.9 232.5 459.6"/>
<path stroke="#B57CE0" stroke-width="0.8" d="M230.2 473.5Q246.4 467.2 253.8 451.5M165.5 474.2Q170.3 478.1 176.5 477.5M188.5 411.8Q185.2 425.1 192.0 437.0M203.9 456.3Q186.0 461.4 176.5 477.5M192.0 437.0Q198.5 436.6 202.9 431.9M192.0 437.0Q203.1 451.2 221.0 453.8M202.9 431.9Q207.6 446.5 221.0 453.8M202.9 431.9Q212.2 451.7 232.5 459.6M184.0 445.6Q173.9 460.1 176.5 477.5M192.0 437.0Q186.3 439.7 184.0 445.6M176.5 477.5Q172.2 465.1 160.6 459.1M176.5 477.5Q162.2 470.2 146.8 474.7M146.8 474.7Q188.1 479.1 221.0 453.8M192.0 437.0Q161.9 446.8 146.8 474.7M176.5 477.5Q164.2 475.4 153.9 482.3M192.0 437.0Q163.9 452.0 153.9 482.3M192.0 437.0Q184.4 452.6 189.6 469.1M176.5 477.5Q184.7 475.9 189.6 469.1M189.6 469.1Q226.2 495.0 270.5 488.5M176.5 477.5Q190.8 482.8 204.8 476.7M192.0 437.0Q190.5 459.4 204.8 476.7M204.8 476.7Q235.3 495.7 270.5 488.5M204.8 476.7Q234.9 489.2 265.3 477.5M221.0 453.8Q225.6 459.0 232.5 459.6M221.0 453.8Q238.4 474.5 265.3 477.5M221.0 453.8Q245.2 471.3 274.8 467.2M232.5 459.6Q245.7 481.7 270.5 488.5M232.5 459.6Q252.1 471.9 274.8 467.2M232.5 459.6Q245.3 475.1 265.3 477.5M253.8 451.5Q248.6 456.3 248.1 463.4M274.8 467.2Q268.0 470.5 265.3 477.5M265.3 477.5Q265.7 484.0 270.5 488.5M221.0 453.8Q238.8 481.0 270.5 488.5M270.5 488.5Q260.9 499.4 261.4 513.9M270.5 488.5Q262.2 476.7 248.1 473.9M274.8 467.2Q260.1 465.2 248.1 473.9M265.3 477.5Q257.4 472.3 248.1 473.9M253.8 451.5Q268.3 466.4 289.1 467.2M270.5 488.5Q284.1 481.6 289.1 467.2M270.5 488.5Q290.4 480.8 299.6 461.5M274.8 467.2Q288.3 469.3 299.6 461.5M176.5 477.5Q188.4 488.4 204.5 488.1M253.8 451.5Q221.8 459.9 204.5 488.1M176.5 477.5Q197.6 494.4 224.6 492.1M232.5 459.6Q222.1 474.3 224.6 492.1M221.0 453.8Q215.1 473.7 224.6 492.1M274.8 467.2Q244.7 469.6 224.6 492.1M176.5 477.5Q177.2 488.1 185.0 495.3M192.0 437.0Q176.8 464.8 185.0 495.3M253.8 451.5Q210.6 459.6 185.0 495.3M176.5 477.5Q178.8 492.4 190.7 501.6M192.0 437.0Q178.4 469.0 190.7 501.6M270.5 488.5Q228.0 479.1 190.7 501.6M176.5 477.5Q172.3 494.7 181.2 510.1M192.0 437.0Q172.0 471.4 181.2 510.1M253.8 451.5Q205.8 466.3 181.2 510.1M265.3 477.5Q241.8 486.5 231.0 509.2M176.5 477.5Q197.4 504.2 231.0 509.2M270.5 488.5Q246.6 491.0 231.0 509.2M270.5 488.5Q238.9 497.9 222.5 526.6M176.5 477.5Q189.7 511.2 222.5 526.6M253.8 451.5Q223.1 482.8 222.5 526.6M176.5 477.5Q206.9 496.0 241.6 488.5M274.8 467.2Q253.9 471.2 241.6 488.5M265.3 477.5Q251.2 478.3 241.6 488.5M270.5 488.5Q256.1 482.7 241.6 488.5M270.5 488.5Q252.3 485.9 237.3 496.5M265.3 477.5Q247.5 481.4 237.3 496.5M274.8 467.2Q250.2 474.4 237.3 496.5M270.5 488.5Q249.4 494.8 238.4 513.9M253.8 451.5Q253.1 479.4 271.9 500.1M274.8 467.2Q266.8 483.1 271.9 500.1M176.5 477.5Q219.7 507.9 271.9 500.1M274.8 467.2Q258.8 487.9 261.4 513.9M192.0 437.0Q211.3 489.3 261.4 513.9M176.5 477.5Q211.7 512.7 261.4 513.9M253.8 451.5Q239.0 487.3 253.0 523.5M253.8 451.5Q214.2 453.1 186.7 481.5M176.5 477.5Q180.8 481.5 186.7 481.5M274.8 467.2Q227.9 456.7 186.7 481.5M192.0 437.0Q208.4 425.0 212.0 405.0M253.8 451.5Q242.2 419.9 212.0 405.0M253.8 451.5Q248.1 426.9 227.0 413.1M176.5 477.5Q214.6 455.4 227.0 413.1M168.5 322.0Q163.7 383.8 202.9 431.9M161.0 324.5Q169.7 406.4 232.5 459.6M161.0 324.5Q189.4 418.6 274.8 467.2M351.5 369.7Q264.8 371.1 202.9 431.9M333.0 411.2Q285.9 430.8 265.3 477.5M340.8 430.5Q300.5 435.7 274.8 467.2M315.6 457.5Q286.5 457.4 265.3 477.5M145.3 389.6Q194.5 454.3 274.8 467.2M145.3 389.6Q188.1 464.1 270.5 488.5M184.8 460.9Q222.1 491.8 270.5 488.5"/>
<path stroke="#C4CA24" stroke-width="0.8" d="M187.8 396.5Q181.9 409.3 186.4 422.7M175.1 387.0Q159.7 382.3 145.3 389.6M175.1 387.0Q164.8 386.0 156.7 392.4M175.1 387.0Q153.9 398.8 146.7 421.9M175.1 387.0Q164.0 389.6 157.7 399.1M157.7 399.1Q147.6 408.3 146.7 421.9M157.7 399.1Q164.5 420.9 184.5 432.0M157.7 399.1Q158.5 395.6 156.7 392.4M157.7 399.1Q153.4 391.9 145.3 389.6M157.7 399.1Q160.2 390.1 155.8 381.9M145.3 389.6Q139.5 406.0 146.7 421.9M145.3 389.6Q156.4 418.6 184.5 432.0M156.7 392.4Q162.7 417.8 184.5 432.0M156.7 392.4Q145.8 405.1 146.7 421.9M187.8 396.5Q174.7 382.8 155.8 381.9M175.1 387.0Q166.5 380.6 155.8 381.9M155.8 381.9Q143.2 400.1 146.7 421.9M155.8 381.9Q160.1 412.7 184.5 432.0M187.8 396.5Q172.7 378.2 149.1 375.3M187.8 396.5Q166.0 368.6 131.0 363.4M187.8 396.5Q163.2 396.2 145.3 413.0M145.3 413.0Q161.1 430.3 184.5 432.0M187.8 396.5Q169.0 394.4 153.9 405.8M153.9 405.8Q164.0 425.0 184.5 432.0M187.8 396.5Q155.7 390.2 128.1 407.7M187.8 396.5Q164.0 389.0 141.5 400.0M175.1 387.0Q155.7 386.8 141.5 400.0M187.8 396.5Q161.7 382.1 132.9 389.6M132.9 389.6Q150.2 421.1 184.5 432.0M186.4 422.7Q178.0 441.5 184.8 460.9M186.4 422.7Q183.6 427.0 184.5 432.0M175.1 387.0Q173.6 407.1 186.4 422.7M184.5 432.0Q178.9 446.5 184.8 460.9M184.5 432.0Q167.6 419.4 146.7 421.9M184.5 432.0Q214.2 434.6 237.5 415.9M237.5 415.9Q202.2 427.9 184.8 460.9M146.7 421.9Q157.9 449.0 184.8 460.9M184.5 432.0Q157.8 413.5 125.8 418.5M187.8 396.5Q152.4 395.1 125.8 418.5M187.8 396.5Q155.4 390.2 127.7 408.0M175.1 387.0Q147.2 388.0 127.7 408.0M184.5 432.0Q160.9 408.6 127.7 408.0M187.8 396.5Q147.3 396.7 118.1 424.8M184.5 432.0Q152.7 415.1 118.1 424.8M184.5 432.0Q162.0 427.9 142.9 440.4M187.8 396.5Q156.6 409.5 142.9 440.4M175.1 387.0Q165.2 425.9 184.8 460.9M156.7 392.4Q157.1 432.3 184.8 460.9M145.3 389.6Q150.8 433.1 184.8 460.9M187.8 396.5Q166.7 424.1 170.5 458.6M184.5 432.0Q172.2 442.5 170.5 458.6M184.5 432.0Q184.9 442.4 192.4 449.6M187.8 396.5Q179.5 424.0 192.4 449.6M192.4 449.6Q194.7 443.2 192.0 437.0M187.8 396.5Q161.1 430.9 165.5 474.2M184.5 432.0Q166.6 449.3 165.5 474.2M187.8 396.5Q169.4 365.3 134.6 355.3M187.8 396.5Q174.1 398.1 165.3 408.6M184.5 432.0Q179.6 416.5 165.3 408.6M184.5 432.0Q155.2 418.6 124.8 429.0M146.7 421.9Q134.3 421.1 124.8 429.0M187.8 396.5Q148.6 378.9 108.0 393.2M184.5 432.0Q176.8 440.7 177.2 452.3M316.1 385.1Q229.8 353.2 145.3 389.6M333.0 411.2Q254.6 391.9 184.5 432.0M304.5 441.6Q240.8 427.3 184.8 460.9M315.6 457.5Q259.5 394.1 175.1 387.0M315.6 457.5Q255.2 418.5 184.5 432.0M289.9 424.0Q218.7 394.3 146.7 421.9M251.5 415.9Q209.2 425.1 184.8 460.9M175.1 387.0Q180.0 415.0 202.9 431.9M157.7 399.1Q167.3 424.9 192.0 437.0M145.3 389.6Q174.9 442.0 232.5 459.6M146.7 421.9Q195.3 480.0 270.5 488.5"/>
<path stroke="#F59638" stroke-width="0.8" d="M136.3 430.9Q122.1 447.7 123.4 469.6M136.3 430.9Q116.3 440.0 108.1 460.4M158.2 441.0Q143.7 442.6 134.3 453.8M158.2 441.0Q141.2 449.7 134.8 467.7M158.2 441.0Q151.7 443.9 149.0 450.5M136.3 430.9Q129.7 406.4 108.0 393.2M158.2 441.0Q142.7 407.1 108.0 393.2M136.3 430.9Q119.7 420.7 100.6 424.8M158.2 441.0Q132.6 421.4 100.6 424.8M136.3 430.9Q138.7 443.2 149.0 450.5M158.2 441.0Q129.3 440.7 108.1 460.4M158.2 441.0Q135.1 448.3 123.4 469.6M136.3 430.9Q119.4 453.0 122.4 480.6M158.2 441.0Q132.4 453.6 122.4 480.6M136.3 430.9Q129.2 466.0 148.2 496.3M158.2 441.0Q142.1 466.6 148.2 496.3M177.2 452.3Q171.8 464.8 176.5 477.5M124.8 429.0Q146.3 451.1 177.2 452.3M136.3 430.9Q165.0 457.1 203.9 456.3M158.2 441.0Q178.0 457.8 203.9 456.3M158.2 441.0Q177.9 464.1 208.1 467.2M136.3 430.9Q164.9 463.4 208.1 467.2M136.3 430.9Q169.0 472.0 221.0 479.2M158.2 441.0Q182.0 472.7 221.0 479.2M221.0 479.2Q199.1 469.5 176.5 477.5"/>
<path stroke="#3CC860" stroke-width="0.6" d="M174.0 347.0Q162.6 349.1 155.8 358.5M155.8 358.5Q169.3 368.1 185.8 365.8M161.0 324.5Q182.6 335.2 205.6 328.0M179.0 355.0Q197.7 346.8 205.6 328.0M227.5 327.0Q234.8 339.5 248.7 343.5M204.2 348.6Q209.0 343.8 209.2 337.0M161.0 324.5Q182.6 340.4 209.2 337.0M204.2 348.6Q216.0 343.2 220.8 331.2M204.2 348.6Q228.4 340.5 240.3 318.0M179.0 355.0Q216.3 352.2 241.3 324.4M179.0 355.0Q204.7 356.6 224.4 340.1M204.2 348.6Q225.3 351.2 242.4 338.6M242.4 338.6Q244.6 342.3 248.7 343.5M257.2 339.7Q253.9 343.3 254.0 348.1M248.7 343.5Q250.4 346.9 254.0 348.1M168.5 322.0Q200.3 354.2 245.6 355.6M248.7 343.5Q244.7 348.9 245.6 355.6M226.5 302.3Q226.8 308.8 231.4 313.3M248.7 343.5Q245.8 318.5 226.5 302.3M226.5 302.3Q238.4 305.8 249.4 300.1M212.7 319.5Q227.3 318.4 237.1 307.6M212.7 319.5Q223.3 320.1 231.4 313.3M248.7 343.5Q246.1 324.9 231.4 313.3M248.7 343.5Q259.5 331.9 259.3 316.0M212.7 319.5Q241.6 305.7 253.0 275.8M226.5 302.3Q245.1 294.4 253.0 275.8M226.5 302.3Q243.2 297.3 251.9 282.1M204.2 348.6Q241.4 324.9 251.9 282.1M257.2 339.7Q265.1 315.8 254.4 293.1M204.2 348.6Q249.8 348.3 282.6 316.7M204.2 348.6Q255.1 350.4 293.2 316.7M248.7 343.5Q276.3 339.0 293.2 316.7M161.0 324.5Q166.3 306.8 157.9 290.3M155.8 358.5Q170.5 324.8 157.9 290.3M161.0 324.5Q158.3 308.4 145.3 298.6M155.8 358.5Q159.9 331.8 144.4 309.7M161.0 324.5Q163.8 316.6 160.3 309.0M161.0 324.5Q178.4 315.6 184.9 297.1M155.8 358.5Q182.6 333.6 184.9 297.1M161.0 324.5Q177.6 322.9 188.5 310.3M161.0 324.5Q150.7 320.9 140.8 325.3M155.8 358.5Q154.9 338.9 140.8 325.3M161.0 324.5Q172.4 328.2 183.1 323.0M155.8 358.5Q150.8 330.1 127.6 312.9M155.8 358.5Q141.7 350.2 125.8 354.0"/>
<path stroke="#F26060" stroke-width="0.6" d="M300.0 342.4Q295.6 340.1 290.9 341.4M333.5 347.2Q338.3 350.2 343.9 349.0M308.5 379.5Q305.3 364.2 292.4 355.4M327.7 357.7Q321.8 362.8 321.0 370.6M308.5 379.5Q304.0 368.7 293.3 364.0M361.0 364.3Q355.2 365.1 351.5 369.7M321.0 370.6Q328.1 372.0 334.3 368.1M316.1 385.1Q342.9 388.8 364.9 372.9M308.5 379.5Q306.7 373.6 301.4 370.6M316.1 385.1Q321.2 378.9 320.6 371.0M351.5 369.7Q357.6 374.2 365.1 373.2M333.0 411.2Q329.4 423.6 335.4 435.1"/>
<path stroke="#4AA0E0" stroke-width="0.6" d="M374.6 421.9Q380.1 422.0 384.2 418.3M364.0 427.2Q351.7 424.2 340.8 430.5M374.6 421.9Q372.7 411.5 364.1 405.4M374.6 421.9Q368.2 426.6 366.9 434.4M374.6 421.9Q369.7 433.1 373.9 444.5M304.5 441.6Q326.4 454.5 351.1 448.7M340.8 430.5Q342.8 448.2 356.4 459.6M315.6 457.5Q317.4 461.5 321.5 463.1M343.6 458.5Q341.4 466.7 345.5 474.1M315.6 457.5Q314.9 471.9 324.4 482.8M281.4 399.2Q302.2 384.0 306.7 358.6M289.9 424.0Q300.7 401.6 293.1 378.0"/>
<path stroke="#40CCE6" stroke-width="0.6" d="M269.2 391.2Q261.2 400.8 262.1 413.2M251.5 415.9Q250.9 402.3 241.2 392.9M251.5 415.9Q257.9 405.8 255.6 394.0M251.5 415.9Q245.3 396.4 227.4 386.5M251.5 415.9Q257.4 416.8 262.4 413.4M251.5 415.9Q233.0 424.6 225.6 443.6M251.5 415.9Q256.6 428.4 269.0 434.0M251.5 415.9Q253.4 427.0 262.4 433.8M251.5 415.9Q216.8 399.8 180.5 412.0"/>
<path stroke="#C4CA24" stroke-width="0.6" d="M155.8 381.9Q153.8 377.3 149.1 375.3M157.7 399.1Q158.2 385.5 149.1 375.3M157.7 399.1Q151.5 375.9 131.0 363.4M145.3 389.6Q143.4 373.6 131.0 363.4M157.7 399.1Q148.7 403.6 145.3 413.0M175.1 387.0Q160.7 392.2 153.9 405.8M145.3 389.6Q133.1 395.2 128.1 407.7M157.7 399.1Q141.2 397.5 128.1 407.7M157.7 399.1Q149.4 396.3 141.5 400.0M145.3 389.6Q141.3 394.0 141.5 400.0M175.1 387.0Q153.5 379.9 132.9 389.6M145.3 389.6Q129.8 400.2 125.8 418.5M157.7 399.1Q137.9 402.4 125.8 418.5M145.3 389.6Q132.8 395.3 127.7 408.0M146.7 421.9Q131.8 417.6 118.1 424.8M146.7 421.9Q141.1 430.4 142.9 440.4M184.8 460.9Q178.1 456.9 170.5 458.6M146.7 421.9Q151.3 445.0 170.5 458.6M184.8 460.9Q190.9 456.8 192.4 449.6M146.7 421.9Q145.6 451.8 165.5 474.2M175.1 387.0Q161.2 363.0 134.6 355.3M175.1 387.0Q165.9 395.8 165.3 408.6"/>
<path stroke="#F59638" stroke-width="0.6" d="M124.8 429.0Q122.1 450.4 134.8 467.7M124.8 429.0Q124.6 443.3 134.3 453.8M124.8 429.0Q123.6 407.7 108.0 393.2M124.8 429.0Q113.5 422.1 100.6 424.8M134.3 453.8Q131.8 460.9 134.8 467.7M134.3 453.8Q156.1 461.6 177.2 452.3M124.8 429.0Q132.6 444.6 149.0 450.5M149.0 450.5Q138.5 456.3 134.8 467.7M134.3 453.8Q142.3 455.1 149.0 450.5M124.8 429.0Q110.2 441.4 108.1 460.4M108.1 460.4Q120.0 469.4 134.8 467.7M134.3 453.8Q119.9 451.9 108.1 460.4M134.8 467.7Q159.1 468.5 177.2 452.3M134.8 467.7Q128.7 466.4 123.4 469.6M124.8 429.0Q116.0 449.0 123.4 469.6M124.8 429.0Q113.3 454.3 122.4 480.6M134.8 467.7Q126.0 471.7 122.4 480.6M134.8 467.7Q135.8 484.7 148.2 496.3M148.2 496.3Q171.5 480.1 177.2 452.3M177.2 452.3Q189.8 459.6 203.9 456.3M177.2 452.3Q189.7 465.9 208.1 467.2M177.2 452.3Q193.7 474.5 221.0 479.2"/>
<path stroke="#B57CE0" stroke-width="0.6" d="M160.6 459.1Q150.6 464.1 146.8 474.7M146.8 474.7Q148.8 479.9 153.9 482.3M221.0 453.8Q232.6 464.0 248.1 463.4M248.1 463.4Q253.9 473.9 265.3 477.5M274.8 467.2Q235.5 463.6 204.5 488.1M231.0 509.2Q236.7 504.1 237.3 496.5M221.0 453.8Q217.7 487.3 238.4 513.9M237.3 496.5Q234.4 505.4 238.4 513.9M261.4 513.9Q255.3 517.0 253.0 523.5M265.3 477.5Q249.9 498.0 253.0 523.5"/>
</g>
<path d="M251 424Q272 492 328.2 492.9" fill="none" stroke="#5AAAE6" stroke-width="2.2" stroke-opacity="0.45"/>
<path d="M136.3 430.9Q149.3 365.7 209.2 337.0" fill="none" stroke="#F59638" stroke-width="1.0" stroke-opacity="0.4"/>
<path d="M136.3 430.9Q131.6 390.8 155.8 358.5" fill="none" stroke="#F59638" stroke-width="1.0" stroke-opacity="0.4"/>
<path d="M136.3 430.9Q119.7 366.8 168.5 322.0" fill="none" stroke="#F59638" stroke-width="0.9" stroke-opacity="0.4"/>
<path d="M136.3 430.9Q110.8 420.5 108.0 393.2" fill="none" stroke="#F59638" stroke-width="0.9" stroke-opacity="0.4"/>
<path d="M136.3 430.9Q117.5 383.7 144.0 340.4" fill="none" stroke="#F59638" stroke-width="0.8" stroke-opacity="0.4"/>
<path d="M136.3 430.9Q120.2 398.2 131.0 363.4" fill="none" stroke="#F59638" stroke-width="0.7" stroke-opacity="0.4"/>
<path d="M108.0 393.2Q144.6 339.8 209.2 337.0" fill="none" stroke="#F59638" stroke-width="0.7" stroke-opacity="0.4"/>
<path d="M108.0 393.2Q125.0 366.3 155.8 358.5" fill="none" stroke="#F59638" stroke-width="0.6" stroke-opacity="0.4"/>
<path d="M108.0 393.2Q116.9 339.5 168.5 322.0" fill="none" stroke="#F59638" stroke-width="0.6" stroke-opacity="0.4"/>
<path d="M136.3 430.9Q131.1 374.2 166.4 329.5" fill="none" stroke="#F59638" stroke-width="0.8" stroke-opacity="0.4"/>
<path d="M136.3 430.9Q116.3 440.0 108.1 460.4" fill="none" stroke="#F59638" stroke-width="0.8" stroke-opacity="0.4"/>
<path d="M136.3 430.9Q119.4 453.0 122.4 480.6" fill="none" stroke="#F59638" stroke-width="0.8" stroke-opacity="0.4"/>
<path d="M136.3 430.9Q129.2 466.0 148.2 496.3" fill="none" stroke="#F59638" stroke-width="0.7" stroke-opacity="0.4"/>
<path d="M136.3 430.9Q130.0 449.1 134.8 467.7" fill="none" stroke="#F59638" stroke-width="1.0" stroke-opacity="0.4"/>
<path d="M136.3 430.9Q131.9 442.1 134.3 453.8" fill="none" stroke="#F59638" stroke-width="1.0" stroke-opacity="0.4"/>
<path d="M157.7 399.1Q171.0 357.8 209.2 337.0" fill="none" stroke="#C4CA24" stroke-width="0.8" stroke-opacity="0.4"/>
<path d="M157.7 399.1Q147.7 358.4 168.5 322.0" fill="none" stroke="#C4CA24" stroke-width="0.7" stroke-opacity="0.4"/>
<path d="M157.7 399.1Q148.6 379.2 155.8 358.5" fill="none" stroke="#C4CA24" stroke-width="0.6" stroke-opacity="0.4"/>
<path d="M201.1 401.6Q195.5 368.1 209.2 337.0" fill="none" stroke="#C4CA24" stroke-width="1.2" stroke-opacity="0.4"/>
<path d="M201.1 401.6Q172.9 366.7 168.5 322.0" fill="none" stroke="#C4CA24" stroke-width="1.0" stroke-opacity="0.4"/>
<path d="M145.3 413.0Q162.1 362.2 209.2 337.0" fill="none" stroke="#C4CA24" stroke-width="0.6" stroke-opacity="0.4"/>
<path d="M145.3 413.0Q134.2 361.7 168.5 322.0" fill="none" stroke="#C4CA24" stroke-width="0.6" stroke-opacity="0.4"/>
<path d="M131.0 363.4Q164.8 334.6 209.2 337.0" fill="none" stroke="#C4CA24" stroke-width="0.6" stroke-opacity="0.4"/>
<path d="M176.5 477.5Q165.7 446.2 136.3 430.9" fill="none" stroke="#B57CE0" stroke-width="0.8" stroke-opacity="0.4"/>
<path d="M176.5 477.5Q192.3 460.4 192.0 437.0" fill="none" stroke="#B57CE0" stroke-width="0.9" stroke-opacity="0.4"/>
<path d="M270.5 488.5Q272.2 435.8 309.8 398.8" fill="none" stroke="#B57CE0" stroke-width="0.8" stroke-opacity="0.4"/>
<path d="M274.8 467.2Q278.6 426.0 309.8 398.8" fill="none" stroke="#B57CE0" stroke-width="0.8" stroke-opacity="0.4"/>
<path d="M253.8 451.5Q283.6 421.6 325.7 420.5" fill="none" stroke="#B57CE0" stroke-width="1.0" stroke-opacity="0.4"/>
<path d="M249.5 422.5Q274.9 398.6 309.8 398.8" fill="none" stroke="#4AA0E0" stroke-width="1.2" stroke-opacity="0.4"/>
<path d="M249.5 422.5Q288.0 436.7 325.7 420.5" fill="none" stroke="#4AA0E0" stroke-width="1.4" stroke-opacity="0.4"/>
<path d="M209.2 337.0Q191.8 321.4 168.5 322.0" fill="none" stroke="#3CC860" stroke-width="1.6" stroke-opacity="0.4"/>
<path d="M209.2 337.0Q178.2 337.1 155.8 358.5" fill="none" stroke="#3CC860" stroke-width="1.2" stroke-opacity="0.4"/>
<path d="M209.2 337.0Q189.3 324.7 166.4 329.5" fill="none" stroke="#3CC860" stroke-width="1.2" stroke-opacity="0.4"/>
<path d="M309.8 398.8Q313.4 412.8 325.7 420.5" fill="none" stroke="#F26060" stroke-width="1.6" stroke-opacity="0.4"/>
<path d="M309.8 398.8Q315.7 393.2 316.1 385.1" fill="none" stroke="#F26060" stroke-width="1.2" stroke-opacity="0.4"/>
<path d="M309.8 398.8Q300.6 386.7 285.6 384.2" fill="none" stroke="#F26060" stroke-width="1.2" stroke-opacity="0.4"/>
<path d="M309.8 398.8Q318.9 409.6 333.0 411.2" fill="none" stroke="#F26060" stroke-width="1.0" stroke-opacity="0.4"/>
<g fill-opacity="0.92">
<circle cx="134.6" cy="355.3" r="1.0" fill="#BCC82E"/>
<circle cx="245.6" cy="355.6" r="1.2" fill="#22BB4B"/>
<circle cx="251.9" cy="282.1" r="1.2" fill="#22BB4B"/>
<circle cx="270.8" cy="410.3" r="1.2" fill="#22C3E0"/>
<circle cx="165.3" cy="408.6" r="1.2" fill="#BCC82E"/>
<circle cx="204.5" cy="488.1" r="1.2" fill="#B884E0"/>
<circle cx="240.3" cy="318" r="1.5" fill="#22BB4B"/>
<circle cx="242.4" cy="338.6" r="1.5" fill="#22BB4B"/>
<circle cx="254.4" cy="293.1" r="1.5" fill="#22BB4B"/>
<circle cx="282.6" cy="316.7" r="1.5" fill="#22BB4B"/>
<circle cx="293.2" cy="316.7" r="1.5" fill="#22BB4B"/>
<circle cx="140.8" cy="325.3" r="1.5" fill="#22BB4B"/>
<circle cx="183.1" cy="323" r="1.5" fill="#22BB4B"/>
<circle cx="127.6" cy="312.9" r="1.5" fill="#22BB4B"/>
<circle cx="125.8" cy="354" r="1.5" fill="#22BB4B"/>
<circle cx="327" cy="338" r="1.5" fill="#EE4646"/>
<circle cx="366.7" cy="356.7" r="1.5" fill="#EE4646"/>
<circle cx="335.4" cy="382.7" r="1.5" fill="#EE4646"/>
<circle cx="320.6" cy="371" r="1.5" fill="#EE4646"/>
<circle cx="348.1" cy="376.4" r="1.5" fill="#EE4646"/>
<circle cx="365.1" cy="373.2" r="1.5" fill="#EE4646"/>
<circle cx="327.3" cy="429.8" r="1.5" fill="#EE4646"/>
<circle cx="311" cy="452.2" r="1.5" fill="#EE4646"/>
<circle cx="384.2" cy="418.3" r="1.5" fill="#2A8CD4"/>
<circle cx="364" cy="427.2" r="1.5" fill="#2A8CD4"/>
<circle cx="364.6" cy="428.2" r="1.5" fill="#2A8CD4"/>
<circle cx="366.9" cy="434.4" r="1.5" fill="#2A8CD4"/>
<circle cx="351.1" cy="448.7" r="1.5" fill="#2A8CD4"/>
<circle cx="356.4" cy="459.6" r="1.5" fill="#2A8CD4"/>
<circle cx="321.5" cy="463.1" r="1.5" fill="#2A8CD4"/>
<circle cx="324.4" cy="482.8" r="1.5" fill="#2A8CD4"/>
<circle cx="304.3" cy="504.3" r="1.5" fill="#2A8CD4"/>
<circle cx="291.9" cy="335.7" r="1.5" fill="#2A8CD4"/>
<circle cx="304.8" cy="333.4" r="1.5" fill="#2A8CD4"/>
<circle cx="293.1" cy="378" r="1.5" fill="#2A8CD4"/>
<circle cx="293.1" cy="389.1" r="1.5" fill="#2A8CD4"/>
<circle cx="235.3" cy="481.9" r="1.5" fill="#2A8CD4"/>
<circle cx="221" cy="462" r="1.5" fill="#22C3E0"/>
<circle cx="230.2" cy="473.5" r="1.5" fill="#22C3E0"/>
<circle cx="131" cy="363.4" r="1.5" fill="#BCC82E"/>
<circle cx="145.3" cy="413" r="1.5" fill="#BCC82E"/>
<circle cx="153.9" cy="405.8" r="1.5" fill="#BCC82E"/>
<circle cx="128.1" cy="407.7" r="1.5" fill="#BCC82E"/>
<circle cx="132.9" cy="389.6" r="1.5" fill="#BCC82E"/>
<circle cx="118.1" cy="424.8" r="1.5" fill="#BCC82E"/>
<circle cx="142.9" cy="440.4" r="1.5" fill="#BCC82E"/>
<circle cx="180.5" cy="412" r="1.5" fill="#22C3E0"/>
<circle cx="100.6" cy="424.8" r="1.5" fill="#F5892A"/>
<circle cx="122.4" cy="480.6" r="1.5" fill="#F5892A"/>
<circle cx="148.2" cy="496.3" r="1.5" fill="#F5892A"/>
<circle cx="208.1" cy="467.2" r="1.5" fill="#F5892A"/>
<circle cx="248.1" cy="463.4" r="1.5" fill="#B884E0"/>
<circle cx="289.1" cy="467.2" r="1.5" fill="#B884E0"/>
<circle cx="185" cy="495.3" r="1.5" fill="#B884E0"/>
<circle cx="181.2" cy="510.1" r="1.5" fill="#B884E0"/>
<circle cx="222.5" cy="526.6" r="1.5" fill="#B884E0"/>
<circle cx="271.9" cy="500.1" r="1.5" fill="#B884E0"/>
<circle cx="253" cy="523.5" r="1.5" fill="#B884E0"/>
<circle cx="186.7" cy="481.5" r="1.5" fill="#B884E0"/>
<circle cx="212" cy="405" r="1.5" fill="#B884E0"/>
<circle cx="227" cy="413.1" r="1.5" fill="#B884E0"/>
<circle cx="217.3" cy="417.4" r="1.5" fill="#C87868"/>
<circle cx="174" cy="347" r="1.8" fill="#22BB4B"/>
<circle cx="205.6" cy="328" r="1.8" fill="#22BB4B"/>
<circle cx="220.8" cy="331.2" r="1.8" fill="#22BB4B"/>
<circle cx="241.3" cy="324.4" r="1.8" fill="#22BB4B"/>
<circle cx="224.4" cy="340.1" r="1.8" fill="#22BB4B"/>
<circle cx="254" cy="348.1" r="1.8" fill="#22BB4B"/>
<circle cx="249.4" cy="300.1" r="1.8" fill="#22BB4B"/>
<circle cx="237.1" cy="307.6" r="1.8" fill="#22BB4B"/>
<circle cx="259.3" cy="316" r="1.8" fill="#22BB4B"/>
<circle cx="285.8" cy="308.2" r="1.8" fill="#22BB4B"/>
<circle cx="157.9" cy="290.3" r="1.8" fill="#22BB4B"/>
<circle cx="145.3" cy="298.6" r="1.8" fill="#22BB4B"/>
<circle cx="144.4" cy="309.7" r="1.8" fill="#22BB4B"/>
<circle cx="160.3" cy="309" r="1.8" fill="#22BB4B"/>
<circle cx="184.9" cy="297.1" r="1.8" fill="#22BB4B"/>
<circle cx="188.5" cy="310.3" r="1.8" fill="#22BB4B"/>
<circle cx="322.9" cy="350.6" r="1.8" fill="#EE4646"/>
<circle cx="292.4" cy="355.4" r="1.8" fill="#EE4646"/>
<circle cx="361" cy="364.3" r="1.8" fill="#EE4646"/>
<circle cx="364.9" cy="372.9" r="1.8" fill="#EE4646"/>
<circle cx="301.4" cy="370.6" r="1.8" fill="#EE4646"/>
<circle cx="335.3" cy="374.8" r="1.8" fill="#EE4646"/>
<circle cx="347.7" cy="376.7" r="1.8" fill="#EE4646"/>
<circle cx="353.4" cy="384.8" r="1.8" fill="#EE4646"/>
<circle cx="376.7" cy="389.5" r="1.8" fill="#EE4646"/>
<circle cx="364.1" cy="405.4" r="1.8" fill="#2A8CD4"/>
<circle cx="293.3" cy="375.4" r="1.8" fill="#2A8CD4"/>
<circle cx="149" cy="450.5" r="1.8" fill="#F5892A"/>
<circle cx="123.4" cy="469.6" r="1.8" fill="#F5892A"/>
<circle cx="189.6" cy="469.1" r="1.8" fill="#B884E0"/>
<circle cx="185.8" cy="365.8" r="2.0" fill="#22BB4B"/>
<circle cx="209.2" cy="337" r="2.0" fill="#22BB4B"/>
<circle cx="343.9" cy="349" r="2.0" fill="#EE4646"/>
<circle cx="327.7" cy="357.7" r="2.0" fill="#EE4646"/>
<circle cx="293.3" cy="364" r="2.0" fill="#EE4646"/>
<circle cx="281.9" cy="358.8" r="2.0" fill="#EE4646"/>
<circle cx="320" cy="362.8" r="2.0" fill="#EE4646"/>
<circle cx="314.3" cy="370" r="2.0" fill="#EE4646"/>
<circle cx="334.3" cy="368.1" r="2.0" fill="#EE4646"/>
<circle cx="337.5" cy="399.7" r="2.0" fill="#EE4646"/>
<circle cx="350.3" cy="405" r="2.0" fill="#EE4646"/>
<circle cx="273.1" cy="330.6" r="2.0" fill="#EE4646"/>
<circle cx="263" cy="368.5" r="2.0" fill="#EE4646"/>
<circle cx="267.5" cy="374" r="2.0" fill="#EE4646"/>
<circle cx="335.4" cy="435.1" r="2.0" fill="#EE4646"/>
<circle cx="291" cy="447.2" r="2.0" fill="#EE4646"/>
<circle cx="373.9" cy="444.5" r="2.0" fill="#2A8CD4"/>
<circle cx="322.6" cy="437.5" r="2.0" fill="#2A8CD4"/>
<circle cx="337.8" cy="449.1" r="2.0" fill="#2A8CD4"/>
<circle cx="314.5" cy="469.6" r="2.0" fill="#2A8CD4"/>
<circle cx="345.5" cy="474.1" r="2.0" fill="#2A8CD4"/>
<circle cx="311.4" cy="478.6" r="2.0" fill="#2A8CD4"/>
<circle cx="306.7" cy="358.6" r="2.0" fill="#2A8CD4"/>
<circle cx="241.2" cy="392.9" r="2.0" fill="#22C3E0"/>
<circle cx="248.6" cy="392.9" r="2.0" fill="#22C3E0"/>
<circle cx="255.6" cy="394" r="2.0" fill="#22C3E0"/>
<circle cx="227.4" cy="386.5" r="2.0" fill="#22C3E0"/>
<circle cx="235.9" cy="385.3" r="2.0" fill="#22C3E0"/>
<circle cx="262.4" cy="413.4" r="2.0" fill="#22C3E0"/>
<circle cx="219.1" cy="367.2" r="2.0" fill="#22C3E0"/>
<circle cx="231.9" cy="429.8" r="2.0" fill="#22C3E0"/>
<circle cx="225.6" cy="443.6" r="2.0" fill="#22C3E0"/>
<circle cx="269" cy="434" r="2.0" fill="#22C3E0"/>
<circle cx="254.8" cy="441.8" r="2.0" fill="#22C3E0"/>
<circle cx="217.2" cy="433.8" r="2.0" fill="#22C3E0"/>
<circle cx="158.2" cy="369.6" r="2.0" fill="#22C3E0"/>
<circle cx="275.8" cy="433.8" r="2.0" fill="#22C3E0"/>
<circle cx="262.4" cy="433.8" r="2.0" fill="#22C3E0"/>
<circle cx="283.4" cy="484.3" r="2.0" fill="#22C3E0"/>
<circle cx="149.1" cy="375.3" r="2.0" fill="#BCC82E"/>
<circle cx="141.5" cy="400" r="2.0" fill="#BCC82E"/>
<circle cx="125.8" cy="418.5" r="2.0" fill="#BCC82E"/>
<circle cx="127.7" cy="408" r="2.0" fill="#BCC82E"/>
<circle cx="170.5" cy="458.6" r="2.0" fill="#BCC82E"/>
<circle cx="192.4" cy="449.6" r="2.0" fill="#BCC82E"/>
<circle cx="165.5" cy="474.2" r="2.0" fill="#BCC82E"/>
<circle cx="188.5" cy="411.8" r="2.0" fill="#C87868"/>
<circle cx="108" cy="393.2" r="2.0" fill="#F5892A"/>
<circle cx="108.1" cy="460.4" r="2.0" fill="#F5892A"/>
<circle cx="203.9" cy="456.3" r="2.0" fill="#F5892A"/>
<circle cx="221" cy="479.2" r="2.0" fill="#F5892A"/>
<circle cx="184" cy="445.6" r="2.0" fill="#B884E0"/>
<circle cx="153.9" cy="482.3" r="2.0" fill="#B884E0"/>
<circle cx="248.1" cy="473.9" r="2.0" fill="#B884E0"/>
<circle cx="190.7" cy="501.6" r="2.0" fill="#B884E0"/>
<circle cx="238.4" cy="513.9" r="2.0" fill="#B884E0"/>
<circle cx="253" cy="275.8" r="2.2" fill="#22BB4B"/>
<circle cx="210.7" cy="388" r="2.2" fill="#22BB4B"/>
<circle cx="241" cy="373" r="2.2" fill="#22BB4B"/>
<circle cx="249.7" cy="379.5" r="2.2" fill="#EE4646"/>
<circle cx="238.1" cy="360.4" r="2.2" fill="#EE4646"/>
<circle cx="231.8" cy="367.2" r="2.2" fill="#EE4646"/>
<circle cx="235.6" cy="400.5" r="2.3" fill="#22C3E0"/>
<circle cx="144" cy="340.4" r="2.5" fill="#22BB4B"/>
<circle cx="227.5" cy="327" r="2.5" fill="#22BB4B"/>
<circle cx="201.1" cy="323.5" r="2.5" fill="#22BB4B"/>
<circle cx="226.5" cy="302.3" r="2.5" fill="#22BB4B"/>
<circle cx="231.4" cy="313.3" r="2.5" fill="#22BB4B"/>
<circle cx="300" cy="342.4" r="2.5" fill="#EE4646"/>
<circle cx="290.9" cy="341.4" r="2.5" fill="#EE4646"/>
<circle cx="333.5" cy="347.2" r="2.5" fill="#EE4646"/>
<circle cx="315.7" cy="348.5" r="2.5" fill="#EE4646"/>
<circle cx="347.1" cy="390.6" r="2.5" fill="#EE4646"/>
<circle cx="349.4" cy="437.5" r="2.5" fill="#2A8CD4"/>
<circle cx="314.5" cy="444.5" r="2.5" fill="#2A8CD4"/>
<circle cx="343.6" cy="458.5" r="2.5" fill="#2A8CD4"/>
<circle cx="282.4" cy="447.2" r="2.5" fill="#2A8CD4"/>
<circle cx="299.8" cy="405.1" r="2.5" fill="#2A8CD4"/>
<circle cx="269.2" cy="391.2" r="2.5" fill="#22C3E0"/>
<circle cx="273" cy="396.5" r="2.5" fill="#22C3E0"/>
<circle cx="234.8" cy="399.7" r="2.5" fill="#22C3E0"/>
<circle cx="246.6" cy="361" r="2.5" fill="#22C3E0"/>
<circle cx="262.1" cy="413.2" r="2.5" fill="#22C3E0"/>
<circle cx="155.8" cy="381.9" r="2.5" fill="#BCC82E"/>
<circle cx="186.4" cy="422.7" r="2.5" fill="#BCC82E"/>
<circle cx="134.3" cy="453.8" r="2.5" fill="#F5892A"/>
<circle cx="134.8" cy="467.7" r="2.5" fill="#F5892A"/>
<circle cx="160.6" cy="459.1" r="2.5" fill="#B884E0"/>
<circle cx="146.8" cy="474.7" r="2.5" fill="#B884E0"/>
<circle cx="204.8" cy="476.7" r="2.5" fill="#B884E0"/>
<circle cx="299.6" cy="461.5" r="2.5" fill="#B884E0"/>
<circle cx="224.6" cy="492.1" r="2.5" fill="#B884E0"/>
<circle cx="231" cy="509.2" r="2.5" fill="#B884E0"/>
<circle cx="241.6" cy="488.5" r="2.5" fill="#B884E0"/>
<circle cx="237.3" cy="496.5" r="2.5" fill="#B884E0"/>
<circle cx="166.4" cy="329.5" r="2.8" fill="#22BB4B"/>
<circle cx="212.7" cy="319.5" r="3.0" fill="#22BB4B"/>
<circle cx="257.2" cy="339.7" r="3.0" fill="#22BB4B"/>
<circle cx="248.7" cy="343.5" r="3.0" fill="#22BB4B"/>
<circle cx="321" cy="370.6" r="3.0" fill="#EE4646"/>
<circle cx="342.7" cy="412" r="3.0" fill="#EE4646"/>
<circle cx="374.6" cy="421.9" r="3.0" fill="#2A8CD4"/>
<circle cx="330.8" cy="447.5" r="3.0" fill="#2A8CD4"/>
<circle cx="328.2" cy="492.9" r="3.0" fill="#2A8CD4"/>
<circle cx="281.4" cy="399.2" r="3.0" fill="#2A8CD4"/>
<circle cx="156.7" cy="392.4" r="3.0" fill="#BCC82E"/>
<circle cx="237.5" cy="415.9" r="3.0" fill="#BCC82E"/>
<circle cx="124.8" cy="429" r="3.0" fill="#F5892A"/>
<circle cx="177.2" cy="452.3" r="3.0" fill="#F5892A"/>
<circle cx="261.4" cy="513.9" r="3.0" fill="#B884E0"/>
<circle cx="204.2" cy="348.6" r="3.5" fill="#22BB4B"/>
<circle cx="308.5" cy="379.5" r="3.5" fill="#EE4646"/>
<circle cx="333" cy="411.2" r="3.5" fill="#EE4646"/>
<circle cx="340.8" cy="430.5" r="3.5" fill="#2A8CD4"/>
<circle cx="315.6" cy="457.5" r="3.5" fill="#2A8CD4"/>
<circle cx="157.7" cy="399.1" r="3.5" fill="#BCC82E"/>
<circle cx="145.3" cy="389.6" r="3.5" fill="#BCC82E"/>
<circle cx="146.7" cy="421.9" r="3.5" fill="#BCC82E"/>
<circle cx="184.8" cy="460.9" r="3.5" fill="#BCC82E"/>
<circle cx="202.9" cy="431.9" r="3.5" fill="#B884E0"/>
<circle cx="221" cy="453.8" r="3.5" fill="#B884E0"/>
<circle cx="232.5" cy="459.6" r="3.5" fill="#B884E0"/>
<circle cx="251.5" cy="415.9" r="3.7" fill="#22C3E0"/>
<circle cx="161" cy="324.5" r="3.8" fill="#22BB4B"/>
<circle cx="179" cy="355" r="3.8" fill="#22BB4B"/>
<circle cx="155.8" cy="358.5" r="3.8" fill="#22BB4B"/>
<circle cx="285.6" cy="384.2" r="4.0" fill="#EE4646"/>
<circle cx="316.1" cy="385.1" r="4.0" fill="#EE4646"/>
<circle cx="351.5" cy="369.7" r="4.0" fill="#EE4646"/>
<circle cx="304.5" cy="441.6" r="4.0" fill="#2A8CD4"/>
<circle cx="289.9" cy="424" r="4.0" fill="#2A8CD4"/>
<circle cx="175.1" cy="387" r="4.0" fill="#BCC82E"/>
<circle cx="265.3" cy="477.5" r="4.0" fill="#B884E0"/>
<circle cx="168.5" cy="322" r="4.5" fill="#22BB4B"/>
<circle cx="250.4" cy="407.4" r="4.5" fill="#EE4646"/>
<circle cx="287.2" cy="457.7" r="4.5" fill="#2A8CD4"/>
<circle cx="274.8" cy="467.2" r="4.5" fill="#B884E0"/>
<circle cx="270.5" cy="488.5" r="4.5" fill="#B884E0"/>
<circle cx="184.5" cy="432" r="5.0" fill="#BCC82E"/>
<circle cx="192" cy="437" r="5.0" fill="#B884E0"/>
<circle cx="316.2" cy="413.1" r="5.3" fill="#EE4646"/>
<circle cx="176.5" cy="477.5" r="5.5" fill="#B884E0"/>
<circle cx="261" cy="424.4" r="5.6" fill="#22C3E0"/>
<circle cx="187.8" cy="396.5" r="5.7" fill="#BCC82E"/>
<circle cx="158.2" cy="441" r="6.0" fill="#F5892A"/>
<circle cx="136.3" cy="430.9" r="6.5" fill="#F5892A"/>
<circle cx="169" cy="338.5" r="6.8" fill="#22BB4B"/>
<circle cx="253.8" cy="451.5" r="7.0" fill="#B884E0"/>
<circle cx="325.7" cy="420.5" r="7.9" fill="#2A8CD4"/>
<circle cx="249.5" cy="422.5" r="8.0" fill="#2A8CD4"/>
<circle cx="201.1" cy="401.6" r="8.3" fill="#BCC82E"/>
<circle cx="309.8" cy="398.8" r="9.0" fill="#EE4646"/>
<circle cx="261" cy="424.4" r="5.6" fill="#22C3E0"/><circle cx="251.5" cy="415.9" r="3.7" fill="#22C3E0"/>
</g>
<g class="l" text-anchor="middle">
<text class="k" x="169" y="340.84" font-size="6.49">asthma</text>
<text class="k" x="168.5" y="324.01" font-size="5.58">copd</text>
<text x="166.4" y="331.19" font-size="4.70">inhaled corticosteroids</text>
<text x="144" y="341.89" font-size="4.14">children</text>
<text x="174" y="348.43" font-size="3.96">inhalation therapy</text>
<text x="155.8" y="360.36" font-size="5.16">budesonide</text>
<text x="185.8" y="367.26" font-size="4.05">salmeterol</text>
<text x="204.2" y="350.12" font-size="4.22">nebulization</text>
<text x="205.6" y="329.46" font-size="4.05">corticosteroids</text>
<text x="212.7" y="321.12" font-size="4.50">surfactant</text>
<text x="227.5" y="328.49" font-size="4.14">safety</text>
<text x="209.2" y="338.39" font-size="3.87">asthma</text>
<text x="248.7" y="345.18" font-size="4.67">pulmonary hypertension</text>
<text x="245.6" y="357.03" font-size="3.96">pharmacology</text>
<text x="226.5" y="303.97" font-size="4.65">respiratory distress syndrome</text>
<text x="231.4" y="314.83" font-size="4.24">bronchopulmonary dysplasia</text>
<text x="253" y="277.36" font-size="4.34">pulmonary embolism</text>
<text x="251.9" y="283.46" font-size="3.78">heparin</text>
<text x="254.4" y="294.49" font-size="3.87">covid-19</text>
<text x="285.8" y="309.63" font-size="3.96">allergy</text>
<text x="282.6" y="318.13" font-size="3.96">ovalbumin</text>
<text x="157.9" y="291.73" font-size="3.96">gene therapy</text>
<text x="145.3" y="300.03" font-size="3.96">exacerbations</text>
<text x="144.4" y="311.13" font-size="3.96">inhaled corticosteroid</text>
<text x="188.5" y="311.73" font-size="3.96">efficacy</text>
<text x="210.7" y="389.44" font-size="3.99">aerosol therapy</text>
<text x="241" y="374.39" font-size="3.85">pulmonary arterial hypertension</text>
<text class="k" x="309.8" y="401.61" font-size="7.80">intranasal</text>
<text class="k" x="285.6" y="386.82" font-size="7.28">rat</text>
<text x="316.1" y="386.93" font-size="5.07">oxytocin</text>
<text class="k" x="250.4" y="409.56" font-size="6.00">lung</text>
<text x="249.7" y="380.99" font-size="4.14">toxicity</text>
<text x="300" y="343.67" font-size="3.53">acute lung injury</text>
<text x="327" y="339.39" font-size="3.87">therapy</text>
<text x="333.5" y="348.40" font-size="3.34">oxidative stress</text>
<text x="292.4" y="356.89" font-size="4.14">bleomycin</text>
<text x="327.7" y="359.19" font-size="4.14">stroke</text>
<text x="366.7" y="358.13" font-size="3.96">hippocampus</text>
<text x="293.3" y="365.59" font-size="4.41">pulmonary fibrosis</text>
<text x="321" y="372.03" font-size="3.97">apoptosis</text>
<text x="351.5" y="371.38" font-size="4.66">neuroprotection</text>
<text x="353.4" y="386.29" font-size="4.14">depression</text>
<text x="347.1" y="392.09" font-size="4.14">diazepam</text>
<text x="376.7" y="390.99" font-size="4.14">memory</text>
<text x="333" y="412.85" font-size="4.57">parkinson&#39;s disease</text>
<text x="273.1" y="332.09" font-size="4.14">meta-analysis</text>
<text class="k" x="325.7" y="423.24" font-size="7.62">intranasal administration</text>
<text x="374.6" y="423.39" font-size="4.14">brain</text>
<text x="364.1" y="406.89" font-size="4.14">ketamine</text>
<text x="340.8" y="432.26" font-size="4.89">blood-brain barrier</text>
<text x="349.4" y="438.95" font-size="4.04">obesity</text>
<text x="373.9" y="445.94" font-size="3.99">central nervous system</text>
<text x="304.5" y="443.38" font-size="4.94">insulin</text>
<text x="330.8" y="449.19" font-size="4.71">brain delivery</text>
<text x="315.6" y="459.31" font-size="5.04">brain targeting</text>
<text x="343.6" y="459.95" font-size="4.02">in situ gel</text>
<text x="314.5" y="471.18" font-size="4.38">nanoemulsion</text>
<text x="345.5" y="475.53" font-size="3.98">dopamine</text>
<text x="324.4" y="483.96" font-size="3.22">nose-to-brain delivery</text>
<text x="328.2" y="494.39" font-size="4.14">microdialysis</text>
<text x="304.3" y="505.79" font-size="4.14">nose-to-brain</text>
<text x="293.3" y="376.89" font-size="4.14">fentanyl</text>
<text x="291.9" y="337.13" font-size="3.96">pain</text>
<text class="k" x="249.5" y="425.09" font-size="7.20">pharmacokinetics</text>
<text x="235.3" y="483.39" font-size="4.14">freeze drying</text>
<text x="269.2" y="392.69" font-size="4.14">influenza</text>
<text x="241.2" y="394.39" font-size="4.14">tuberculosis</text>
<text x="270.8" y="411.73" font-size="3.96">vaccine</text>
<text x="246.6" y="362.49" font-size="4.14">pneumonia</text>
<text x="254.8" y="443.29" font-size="4.14">nasal mucosa</text>
<text x="230.2" y="474.99" font-size="4.14">permeation</text>
<text class="k" x="201.1" y="404.37" font-size="7.71">inhalation</text>
<text x="175.1" y="388.62" font-size="4.50">aerosols</text>
<text x="157.7" y="400.95" font-size="5.13">cystic fibrosis</text>
<text x="149.1" y="376.76" font-size="4.05">nebulizers</text>
<text x="131" y="364.83" font-size="3.96">nebulizer</text>
<text x="145.3" y="414.61" font-size="4.46">lung deposition</text>
<text x="186.4" y="424.54" font-size="5.10">pulmonary administration</text>
<text x="142.9" y="441.89" font-size="4.14">particle size</text>
<text x="184.8" y="462.70" font-size="5.00">liposomes</text>
<text x="134.6" y="356.73" font-size="3.96">spacer</text>
<text x="165.3" y="410.09" font-size="4.14">lung</text>
<text x="188.5" y="413.36" font-size="4.32">lung cancer</text>
<text class="k" x="136.3" y="433.18" font-size="6.32">dry powder inhaler</text>
<text x="108" y="394.69" font-size="4.14">fluticasone propionate</text>
<text x="134.3" y="455.29" font-size="4.14">lactose</text>
<text x="149" y="451.99" font-size="4.14">carrier</text>
<text x="108.1" y="461.89" font-size="4.14">adhesive mixtures</text>
<text x="134.8" y="469.19" font-size="4.14">fine particle fraction</text>
<text x="122.4" y="482.09" font-size="4.14">salbutamol sulfate</text>
<text x="148.2" y="497.79" font-size="4.14">surface modification</text>
<text x="177.2" y="453.92" font-size="4.50">spray drying</text>
<text x="203.9" y="457.79" font-size="4.14">pla</text>
<text class="k" x="253.8" y="453.88" font-size="6.62">nanoparticles</text>
<text class="k" x="192" y="439.19" font-size="6.08">pulmonary delivery</text>
<text x="184" y="447.04" font-size="4.01">respiratory drug delivery</text>
<text class="k" x="176.5" y="479.54" font-size="5.65">spray drying</text>
<text x="189.6" y="470.59" font-size="4.14">dissolution</text>
<text x="204.8" y="478.32" font-size="4.50">formulation</text>
<text x="248.1" y="464.82" font-size="3.96">nanocarriers</text>
<text class="k" x="274.8" y="469.36" font-size="6.01">chitosan</text>
<text class="k" x="265.3" y="479.50" font-size="5.55">bioavailability</text>
<text class="k" x="270.5" y="490.57" font-size="5.75">nasal drug delivery</text>
<text x="204.5" y="489.59" font-size="4.14">powder</text>
<text x="224.6" y="493.72" font-size="4.50">peptide</text>
<text x="185" y="496.79" font-size="4.14">microparticle</text>
<text x="190.7" y="503.09" font-size="4.14">stability</text>
<text x="181.2" y="511.59" font-size="4.14">protein</text>
<text x="231" y="510.82" font-size="4.50">solubility</text>
<text x="222.5" y="528.09" font-size="4.14">absorption enhancer</text>
<text x="271.9" y="501.59" font-size="4.14">mucoadhesive</text>
<text x="261.4" y="515.84" font-size="5.40">mucoadhesion</text>
<text x="253" y="524.99" font-size="4.14">nasal absorption</text>
<text x="227" y="414.18" font-size="2.99">nanomedicine</text>
</g>
<g fill="none" stroke="#3a3a3a" stroke-width="0.8">
<ellipse cx="330.2" cy="417.3" rx="68.2" ry="83.7" transform="rotate(-19.3 330.2 417.3)"/>
<ellipse cx="225" cy="479.8" rx="83" ry="54.7" transform="rotate(-2.2 225 479.8)"/>
<ellipse cx="152.7" cy="417.5" rx="70.9" ry="52.5" transform="rotate(7.3 152.7 417.5)"/>
<ellipse cx="210.5" cy="330.3" rx="83.9" ry="60.6" transform="rotate(-2.3 210.5 330.3)"/>
<path d="M65.2 286.1L127.8 319.7M396.8 311.3L355.6 344M52.8 486.9L92 443.3M367.4 522L297.8 506"/>
</g>
<rect x="21" y="260.3" width="117.19999999999999" height="25.80000000000001" fill="#fff" stroke="#606060" stroke-width="1"/>
<line x1="65.2" y1="260.3" x2="65.2" y2="286.1" stroke="#606060" stroke-width="1"/>
<text class="s" x="43.1" y="276.9" font-size="9.5" text-anchor="middle" fill="#111">Cluster D</text>
<text class="s" x="101.7" y="271.5" font-size="9.5" text-anchor="middle" fill="#111">Respiratory</text>
<text class="s" x="101.7" y="282.3" font-size="9.5" text-anchor="middle" fill="#111">Disease Research</text>
<rect x="351.1" y="286" width="118.19999999999999" height="25.30000000000001" fill="#fff" stroke="#606060" stroke-width="1"/>
<line x1="396.8" y1="286" x2="396.8" y2="311.3" stroke="#606060" stroke-width="1"/>
<text class="s" x="374.0" y="302.3" font-size="9.5" text-anchor="middle" fill="#111">Cluster A</text>
<text class="s" x="433.1" y="296.9" font-size="9.5" text-anchor="middle" fill="#111">Nasal</text>
<text class="s" x="433.1" y="307.8" font-size="9.5" text-anchor="middle" fill="#111">Drug Delivery</text>
<rect x="7.4" y="486.9" width="116.6" height="25.5" fill="#fff" stroke="#606060" stroke-width="1"/>
<line x1="52.8" y1="486.9" x2="52.8" y2="512.4" stroke="#606060" stroke-width="1"/>
<text class="s" x="30.1" y="503.3" font-size="9.5" text-anchor="middle" fill="#111">Cluster C</text>
<text class="s" x="88.4" y="497.9" font-size="9.5" text-anchor="middle" fill="#111">Pulmonary</text>
<text class="s" x="88.4" y="508.8" font-size="9.5" text-anchor="middle" fill="#111">Drug Delivery</text>
<rect x="322.6" y="522" width="137.7" height="25.200000000000045" fill="#fff" stroke="#606060" stroke-width="1"/>
<line x1="367.4" y1="522" x2="367.4" y2="547.2" stroke="#606060" stroke-width="1"/>
<text class="s" x="345.0" y="538.3" font-size="9.5" text-anchor="middle" fill="#111">Cluster B</text>
<text class="s" x="413.9" y="532.9" font-size="9.5" text-anchor="middle" fill="#111">Pharmaceutical</text>
<text class="s" x="413.9" y="543.7" font-size="9.5" text-anchor="middle" fill="#111">Preparation Research</text>
</svg></body></html>
